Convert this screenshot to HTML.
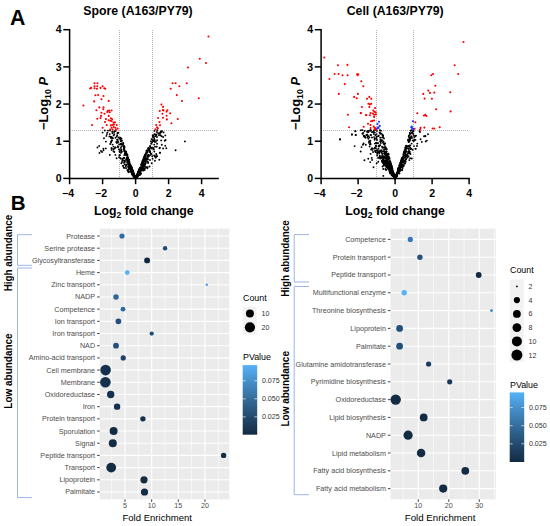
<!DOCTYPE html>
<html><head><meta charset="utf-8"><style>
html,body{margin:0;padding:0;background:#fff;}
svg{display:block;font-family:"Liberation Sans",sans-serif;}
</style></head><body>
<svg width="550" height="526" viewBox="0 0 550 526">
<defs><linearGradient id="grad" x1="0" y1="0" x2="0" y2="1"><stop offset="0" stop-color="#56B1F7"/><stop offset="0.2" stop-color="#4894D0"/><stop offset="0.4" stop-color="#3A78AA"/><stop offset="0.6" stop-color="#2C5D86"/><stop offset="0.8" stop-color="#1F4364"/><stop offset="1" stop-color="#132B43"/></linearGradient></defs>
<rect width="550" height="526" fill="#fff"/>
<text x="9.90" y="25.00" font-size="21.3" text-anchor="start" font-weight="bold" fill="#000" >A</text>
<text x="10.80" y="210.30" font-size="20.5" text-anchor="start" font-weight="bold" fill="#000" >B</text>
<line x1="119.5" y1="30" x2="119.5" y2="178" stroke="#b3b3b3" stroke-width="1" stroke-dasharray="1 1"/>
<line x1="152.5" y1="30" x2="152.5" y2="178" stroke="#b3b3b3" stroke-width="1" stroke-dasharray="1 1"/>
<line x1="70" y1="130.5" x2="218" y2="130.5" stroke="#b3b3b3" stroke-width="1" stroke-dasharray="1 1"/>
<path d="M69.60,29.00 V178.40 H218.80" fill="none" stroke="#000" stroke-width="1.5"/>
<line x1="63.30" y1="178.40" x2="69.60" y2="178.40" stroke="#000" stroke-width="1.5"/>
<text x="61.60" y="182.10" font-size="10.5" text-anchor="end" font-weight="bold" fill="#000" >0</text>
<line x1="63.30" y1="141.23" x2="69.60" y2="141.23" stroke="#000" stroke-width="1.5"/>
<text x="61.60" y="144.93" font-size="10.5" text-anchor="end" font-weight="bold" fill="#000" >1</text>
<line x1="63.30" y1="104.05" x2="69.60" y2="104.05" stroke="#000" stroke-width="1.5"/>
<text x="61.60" y="107.75" font-size="10.5" text-anchor="end" font-weight="bold" fill="#000" >2</text>
<line x1="63.30" y1="66.88" x2="69.60" y2="66.88" stroke="#000" stroke-width="1.5"/>
<text x="61.60" y="70.58" font-size="10.5" text-anchor="end" font-weight="bold" fill="#000" >3</text>
<line x1="63.30" y1="29.70" x2="69.60" y2="29.70" stroke="#000" stroke-width="1.5"/>
<text x="61.60" y="33.40" font-size="10.5" text-anchor="end" font-weight="bold" fill="#000" >4</text>
<line x1="69.60" y1="178.40" x2="69.60" y2="184.20" stroke="#000" stroke-width="1.5"/>
<text x="68.10" y="197.30" font-size="10.5" text-anchor="middle" font-weight="bold" fill="#000" >&#8722;4</text>
<line x1="102.60" y1="178.40" x2="102.60" y2="184.20" stroke="#000" stroke-width="1.5"/>
<text x="101.10" y="197.30" font-size="10.5" text-anchor="middle" font-weight="bold" fill="#000" >&#8722;2</text>
<line x1="135.60" y1="178.40" x2="135.60" y2="184.20" stroke="#000" stroke-width="1.5"/>
<text x="135.60" y="197.30" font-size="10.5" text-anchor="middle" font-weight="bold" fill="#000" >0</text>
<line x1="168.60" y1="178.40" x2="168.60" y2="184.20" stroke="#000" stroke-width="1.5"/>
<text x="168.60" y="197.30" font-size="10.5" text-anchor="middle" font-weight="bold" fill="#000" >2</text>
<line x1="201.60" y1="178.40" x2="201.60" y2="184.20" stroke="#000" stroke-width="1.5"/>
<text x="201.60" y="197.30" font-size="10.5" text-anchor="middle" font-weight="bold" fill="#000" >4</text>
<text x="138.00" y="14.70" font-size="12.3" text-anchor="middle" font-weight="bold" fill="#000" >Spore (A163/PY79)</text>
<text x="143.85" y="215.2" font-size="12.3" font-weight="bold" text-anchor="middle">Log<tspan font-size="8.5" dy="3">2</tspan><tspan dy="-3"> fold change</tspan></text>
<text transform="translate(48.20,103.50) rotate(-90)" font-size="12.8" font-weight="bold" text-anchor="middle">&#8722;Log<tspan font-size="8.9" dy="3">10</tspan><tspan dy="-3" font-style="italic"> P</tspan></text>
<line x1="376.5" y1="30" x2="376.5" y2="178" stroke="#b3b3b3" stroke-width="1" stroke-dasharray="1 1"/>
<line x1="413.5" y1="30" x2="413.5" y2="178" stroke="#b3b3b3" stroke-width="1" stroke-dasharray="1 1"/>
<line x1="321" y1="130.5" x2="469" y2="130.5" stroke="#b3b3b3" stroke-width="1" stroke-dasharray="1 1"/>
<path d="M321.10,29.00 V178.40 H469.80" fill="none" stroke="#000" stroke-width="1.5"/>
<line x1="314.80" y1="178.40" x2="321.10" y2="178.40" stroke="#000" stroke-width="1.5"/>
<text x="313.10" y="182.10" font-size="10.5" text-anchor="end" font-weight="bold" fill="#000" >0</text>
<line x1="314.80" y1="141.23" x2="321.10" y2="141.23" stroke="#000" stroke-width="1.5"/>
<text x="313.10" y="144.93" font-size="10.5" text-anchor="end" font-weight="bold" fill="#000" >1</text>
<line x1="314.80" y1="104.05" x2="321.10" y2="104.05" stroke="#000" stroke-width="1.5"/>
<text x="313.10" y="107.75" font-size="10.5" text-anchor="end" font-weight="bold" fill="#000" >2</text>
<line x1="314.80" y1="66.88" x2="321.10" y2="66.88" stroke="#000" stroke-width="1.5"/>
<text x="313.10" y="70.58" font-size="10.5" text-anchor="end" font-weight="bold" fill="#000" >3</text>
<line x1="314.80" y1="29.70" x2="321.10" y2="29.70" stroke="#000" stroke-width="1.5"/>
<text x="313.10" y="33.40" font-size="10.5" text-anchor="end" font-weight="bold" fill="#000" >4</text>
<line x1="321.10" y1="178.40" x2="321.10" y2="184.20" stroke="#000" stroke-width="1.5"/>
<text x="319.60" y="197.30" font-size="10.5" text-anchor="middle" font-weight="bold" fill="#000" >&#8722;4</text>
<line x1="358.10" y1="178.40" x2="358.10" y2="184.20" stroke="#000" stroke-width="1.5"/>
<text x="356.60" y="197.30" font-size="10.5" text-anchor="middle" font-weight="bold" fill="#000" >&#8722;2</text>
<line x1="395.10" y1="178.40" x2="395.10" y2="184.20" stroke="#000" stroke-width="1.5"/>
<text x="395.10" y="197.30" font-size="10.5" text-anchor="middle" font-weight="bold" fill="#000" >0</text>
<line x1="432.10" y1="178.40" x2="432.10" y2="184.20" stroke="#000" stroke-width="1.5"/>
<text x="432.10" y="197.30" font-size="10.5" text-anchor="middle" font-weight="bold" fill="#000" >2</text>
<line x1="469.10" y1="178.40" x2="469.10" y2="184.20" stroke="#000" stroke-width="1.5"/>
<text x="469.10" y="197.30" font-size="10.5" text-anchor="middle" font-weight="bold" fill="#000" >4</text>
<text x="395.20" y="14.70" font-size="12.3" text-anchor="middle" font-weight="bold" fill="#000" >Cell (A163/PY79)</text>
<text x="395.10" y="215.2" font-size="12.3" font-weight="bold" text-anchor="middle">Log<tspan font-size="8.5" dy="3">2</tspan><tspan dy="-3"> fold change</tspan></text>
<text transform="translate(299.70,103.50) rotate(-90)" font-size="12.8" font-weight="bold" text-anchor="middle">&#8722;Log<tspan font-size="8.9" dy="3">10</tspan><tspan dy="-3" font-style="italic"> P</tspan></text>
<rect x="99.7" y="228.7" width="129.70" height="270.60" fill="#EBEBEB"/>
<line x1="111.67" y1="228.7" x2="111.67" y2="499.3" stroke="#fff" stroke-width="0.6"/>
<line x1="138.32" y1="228.7" x2="138.32" y2="499.3" stroke="#fff" stroke-width="0.6"/>
<line x1="164.97" y1="228.7" x2="164.97" y2="499.3" stroke="#fff" stroke-width="0.6"/>
<line x1="191.62" y1="228.7" x2="191.62" y2="499.3" stroke="#fff" stroke-width="0.6"/>
<line x1="218.27" y1="228.7" x2="218.27" y2="499.3" stroke="#fff" stroke-width="0.6"/>
<line x1="125.00" y1="228.7" x2="125.00" y2="499.3" stroke="#fff" stroke-width="1.1"/>
<line x1="151.65" y1="228.7" x2="151.65" y2="499.3" stroke="#fff" stroke-width="1.1"/>
<line x1="178.30" y1="228.7" x2="178.30" y2="499.3" stroke="#fff" stroke-width="1.1"/>
<line x1="204.95" y1="228.7" x2="204.95" y2="499.3" stroke="#fff" stroke-width="1.1"/>
<line x1="99.7" y1="236.01" x2="229.40" y2="236.01" stroke="#fff" stroke-width="1.1"/>
<line x1="97.10" y1="236.01" x2="99.7" y2="236.01" stroke="#333" stroke-width="0.9"/>
<text x="95.10" y="238.51" font-size="7.2" text-anchor="end" font-weight="normal" fill="#4D4D4D" >Protease</text>
<line x1="99.7" y1="248.20" x2="229.40" y2="248.20" stroke="#fff" stroke-width="1.1"/>
<line x1="97.10" y1="248.20" x2="99.7" y2="248.20" stroke="#333" stroke-width="0.9"/>
<text x="95.10" y="250.70" font-size="7.2" text-anchor="end" font-weight="normal" fill="#4D4D4D" >Serine protease</text>
<line x1="99.7" y1="260.39" x2="229.40" y2="260.39" stroke="#fff" stroke-width="1.1"/>
<line x1="97.10" y1="260.39" x2="99.7" y2="260.39" stroke="#333" stroke-width="0.9"/>
<text x="95.10" y="262.89" font-size="7.2" text-anchor="end" font-weight="normal" fill="#4D4D4D" >Glycosyltransferase</text>
<line x1="99.7" y1="272.58" x2="229.40" y2="272.58" stroke="#fff" stroke-width="1.1"/>
<line x1="97.10" y1="272.58" x2="99.7" y2="272.58" stroke="#333" stroke-width="0.9"/>
<text x="95.10" y="275.08" font-size="7.2" text-anchor="end" font-weight="normal" fill="#4D4D4D" >Heme</text>
<line x1="99.7" y1="284.77" x2="229.40" y2="284.77" stroke="#fff" stroke-width="1.1"/>
<line x1="97.10" y1="284.77" x2="99.7" y2="284.77" stroke="#333" stroke-width="0.9"/>
<text x="95.10" y="287.27" font-size="7.2" text-anchor="end" font-weight="normal" fill="#4D4D4D" >Zinc transport</text>
<line x1="99.7" y1="296.96" x2="229.40" y2="296.96" stroke="#fff" stroke-width="1.1"/>
<line x1="97.10" y1="296.96" x2="99.7" y2="296.96" stroke="#333" stroke-width="0.9"/>
<text x="95.10" y="299.46" font-size="7.2" text-anchor="end" font-weight="normal" fill="#4D4D4D" >NADP</text>
<line x1="99.7" y1="309.15" x2="229.40" y2="309.15" stroke="#fff" stroke-width="1.1"/>
<line x1="97.10" y1="309.15" x2="99.7" y2="309.15" stroke="#333" stroke-width="0.9"/>
<text x="95.10" y="311.65" font-size="7.2" text-anchor="end" font-weight="normal" fill="#4D4D4D" >Competence</text>
<line x1="99.7" y1="321.34" x2="229.40" y2="321.34" stroke="#fff" stroke-width="1.1"/>
<line x1="97.10" y1="321.34" x2="99.7" y2="321.34" stroke="#333" stroke-width="0.9"/>
<text x="95.10" y="323.84" font-size="7.2" text-anchor="end" font-weight="normal" fill="#4D4D4D" >Ion transport</text>
<line x1="99.7" y1="333.53" x2="229.40" y2="333.53" stroke="#fff" stroke-width="1.1"/>
<line x1="97.10" y1="333.53" x2="99.7" y2="333.53" stroke="#333" stroke-width="0.9"/>
<text x="95.10" y="336.03" font-size="7.2" text-anchor="end" font-weight="normal" fill="#4D4D4D" >Iron transport</text>
<line x1="99.7" y1="345.72" x2="229.40" y2="345.72" stroke="#fff" stroke-width="1.1"/>
<line x1="97.10" y1="345.72" x2="99.7" y2="345.72" stroke="#333" stroke-width="0.9"/>
<text x="95.10" y="348.22" font-size="7.2" text-anchor="end" font-weight="normal" fill="#4D4D4D" >NAD</text>
<line x1="99.7" y1="357.91" x2="229.40" y2="357.91" stroke="#fff" stroke-width="1.1"/>
<line x1="97.10" y1="357.91" x2="99.7" y2="357.91" stroke="#333" stroke-width="0.9"/>
<text x="95.10" y="360.41" font-size="7.2" text-anchor="end" font-weight="normal" fill="#4D4D4D" >Amino-acid transport</text>
<line x1="99.7" y1="370.09" x2="229.40" y2="370.09" stroke="#fff" stroke-width="1.1"/>
<line x1="97.10" y1="370.09" x2="99.7" y2="370.09" stroke="#333" stroke-width="0.9"/>
<text x="95.10" y="372.59" font-size="7.2" text-anchor="end" font-weight="normal" fill="#4D4D4D" >Cell membrane</text>
<line x1="99.7" y1="382.28" x2="229.40" y2="382.28" stroke="#fff" stroke-width="1.1"/>
<line x1="97.10" y1="382.28" x2="99.7" y2="382.28" stroke="#333" stroke-width="0.9"/>
<text x="95.10" y="384.78" font-size="7.2" text-anchor="end" font-weight="normal" fill="#4D4D4D" >Membrane</text>
<line x1="99.7" y1="394.47" x2="229.40" y2="394.47" stroke="#fff" stroke-width="1.1"/>
<line x1="97.10" y1="394.47" x2="99.7" y2="394.47" stroke="#333" stroke-width="0.9"/>
<text x="95.10" y="396.97" font-size="7.2" text-anchor="end" font-weight="normal" fill="#4D4D4D" >Oxidoreductase</text>
<line x1="99.7" y1="406.66" x2="229.40" y2="406.66" stroke="#fff" stroke-width="1.1"/>
<line x1="97.10" y1="406.66" x2="99.7" y2="406.66" stroke="#333" stroke-width="0.9"/>
<text x="95.10" y="409.16" font-size="7.2" text-anchor="end" font-weight="normal" fill="#4D4D4D" >Iron</text>
<line x1="99.7" y1="418.85" x2="229.40" y2="418.85" stroke="#fff" stroke-width="1.1"/>
<line x1="97.10" y1="418.85" x2="99.7" y2="418.85" stroke="#333" stroke-width="0.9"/>
<text x="95.10" y="421.35" font-size="7.2" text-anchor="end" font-weight="normal" fill="#4D4D4D" >Protein transport</text>
<line x1="99.7" y1="431.04" x2="229.40" y2="431.04" stroke="#fff" stroke-width="1.1"/>
<line x1="97.10" y1="431.04" x2="99.7" y2="431.04" stroke="#333" stroke-width="0.9"/>
<text x="95.10" y="433.54" font-size="7.2" text-anchor="end" font-weight="normal" fill="#4D4D4D" >Sporulation</text>
<line x1="99.7" y1="443.23" x2="229.40" y2="443.23" stroke="#fff" stroke-width="1.1"/>
<line x1="97.10" y1="443.23" x2="99.7" y2="443.23" stroke="#333" stroke-width="0.9"/>
<text x="95.10" y="445.73" font-size="7.2" text-anchor="end" font-weight="normal" fill="#4D4D4D" >Signal</text>
<line x1="99.7" y1="455.42" x2="229.40" y2="455.42" stroke="#fff" stroke-width="1.1"/>
<line x1="97.10" y1="455.42" x2="99.7" y2="455.42" stroke="#333" stroke-width="0.9"/>
<text x="95.10" y="457.92" font-size="7.2" text-anchor="end" font-weight="normal" fill="#4D4D4D" >Peptide transport</text>
<line x1="99.7" y1="467.61" x2="229.40" y2="467.61" stroke="#fff" stroke-width="1.1"/>
<line x1="97.10" y1="467.61" x2="99.7" y2="467.61" stroke="#333" stroke-width="0.9"/>
<text x="95.10" y="470.11" font-size="7.2" text-anchor="end" font-weight="normal" fill="#4D4D4D" >Transport</text>
<line x1="99.7" y1="479.80" x2="229.40" y2="479.80" stroke="#fff" stroke-width="1.1"/>
<line x1="97.10" y1="479.80" x2="99.7" y2="479.80" stroke="#333" stroke-width="0.9"/>
<text x="95.10" y="482.30" font-size="7.2" text-anchor="end" font-weight="normal" fill="#4D4D4D" >Lipoprotein</text>
<line x1="99.7" y1="491.99" x2="229.40" y2="491.99" stroke="#fff" stroke-width="1.1"/>
<line x1="97.10" y1="491.99" x2="99.7" y2="491.99" stroke="#333" stroke-width="0.9"/>
<text x="95.10" y="494.49" font-size="7.2" text-anchor="end" font-weight="normal" fill="#4D4D4D" >Palmitate</text>
<circle cx="122.00" cy="236.01" r="2.6" fill="#2F6AA0"/>
<circle cx="165.10" cy="248.20" r="2.2" fill="#1F4A75"/>
<circle cx="147.10" cy="260.39" r="2.95" fill="#102741"/>
<circle cx="127.20" cy="272.58" r="2.4" fill="#56B1F7"/>
<circle cx="206.80" cy="284.77" r="1.3" fill="#4FA3E6"/>
<circle cx="116.00" cy="296.96" r="2.75" fill="#2E6698"/>
<circle cx="123.00" cy="309.15" r="2.45" fill="#2F6AA0"/>
<circle cx="118.40" cy="321.34" r="2.85" fill="#244F7C"/>
<circle cx="151.70" cy="333.53" r="2.15" fill="#244F7C"/>
<circle cx="116.00" cy="345.72" r="2.9" fill="#244F7C"/>
<circle cx="123.20" cy="357.91" r="2.6" fill="#1D4166"/>
<circle cx="105.60" cy="370.09" r="5.3" fill="#15304D"/>
<circle cx="105.40" cy="382.28" r="5.3" fill="#15304D"/>
<circle cx="110.70" cy="394.47" r="3.7" fill="#15304D"/>
<circle cx="117.10" cy="406.66" r="3.2" fill="#15304D"/>
<circle cx="142.90" cy="418.85" r="2.7" fill="#15304D"/>
<circle cx="113.60" cy="431.04" r="4.0" fill="#132B43"/>
<circle cx="112.80" cy="443.23" r="4.0" fill="#132B43"/>
<circle cx="223.60" cy="455.42" r="2.7" fill="#132B43"/>
<circle cx="111.20" cy="467.61" r="4.9" fill="#132B43"/>
<circle cx="144.00" cy="479.80" r="3.6" fill="#132B43"/>
<circle cx="144.50" cy="491.99" r="3.6" fill="#132B43"/>
<line x1="125.00" y1="499.3" x2="125.00" y2="501.90" stroke="#333" stroke-width="0.9"/>
<text x="125.00" y="508.20" font-size="7.1" text-anchor="middle" font-weight="normal" fill="#4D4D4D" >5</text>
<line x1="151.65" y1="499.3" x2="151.65" y2="501.90" stroke="#333" stroke-width="0.9"/>
<text x="151.65" y="508.20" font-size="7.1" text-anchor="middle" font-weight="normal" fill="#4D4D4D" >10</text>
<line x1="178.30" y1="499.3" x2="178.30" y2="501.90" stroke="#333" stroke-width="0.9"/>
<text x="178.30" y="508.20" font-size="7.1" text-anchor="middle" font-weight="normal" fill="#4D4D4D" >15</text>
<line x1="204.95" y1="499.3" x2="204.95" y2="501.90" stroke="#333" stroke-width="0.9"/>
<text x="204.95" y="508.20" font-size="7.1" text-anchor="middle" font-weight="normal" fill="#4D4D4D" >20</text>
<text x="157.20" y="521.00" font-size="9.0" text-anchor="middle" font-weight="normal" fill="#000" textLength="69.4" lengthAdjust="spacingAndGlyphs">Fold Enrichment</text>
<rect x="390.5" y="228.7" width="105.30" height="270.60" fill="#EBEBEB"/>
<line x1="403.05" y1="228.7" x2="403.05" y2="499.3" stroke="#fff" stroke-width="0.6"/>
<line x1="433.55" y1="228.7" x2="433.55" y2="499.3" stroke="#fff" stroke-width="0.6"/>
<line x1="464.05" y1="228.7" x2="464.05" y2="499.3" stroke="#fff" stroke-width="0.6"/>
<line x1="494.55" y1="228.7" x2="494.55" y2="499.3" stroke="#fff" stroke-width="0.6"/>
<line x1="418.30" y1="228.7" x2="418.30" y2="499.3" stroke="#fff" stroke-width="1.1"/>
<line x1="448.80" y1="228.7" x2="448.80" y2="499.3" stroke="#fff" stroke-width="1.1"/>
<line x1="479.30" y1="228.7" x2="479.30" y2="499.3" stroke="#fff" stroke-width="1.1"/>
<line x1="390.5" y1="239.38" x2="495.80" y2="239.38" stroke="#fff" stroke-width="1.1"/>
<line x1="387.90" y1="239.38" x2="390.5" y2="239.38" stroke="#333" stroke-width="0.9"/>
<text x="385.90" y="241.88" font-size="7.2" text-anchor="end" font-weight="normal" fill="#4D4D4D" >Competence</text>
<line x1="390.5" y1="257.18" x2="495.80" y2="257.18" stroke="#fff" stroke-width="1.1"/>
<line x1="387.90" y1="257.18" x2="390.5" y2="257.18" stroke="#333" stroke-width="0.9"/>
<text x="385.90" y="259.68" font-size="7.2" text-anchor="end" font-weight="normal" fill="#4D4D4D" >Protein transport</text>
<line x1="390.5" y1="274.99" x2="495.80" y2="274.99" stroke="#fff" stroke-width="1.1"/>
<line x1="387.90" y1="274.99" x2="390.5" y2="274.99" stroke="#333" stroke-width="0.9"/>
<text x="385.90" y="277.49" font-size="7.2" text-anchor="end" font-weight="normal" fill="#4D4D4D" >Peptide transport</text>
<line x1="390.5" y1="292.79" x2="495.80" y2="292.79" stroke="#fff" stroke-width="1.1"/>
<line x1="387.90" y1="292.79" x2="390.5" y2="292.79" stroke="#333" stroke-width="0.9"/>
<text x="385.90" y="295.29" font-size="7.2" text-anchor="end" font-weight="normal" fill="#4D4D4D" >Multifunctional enzyme</text>
<line x1="390.5" y1="310.59" x2="495.80" y2="310.59" stroke="#fff" stroke-width="1.1"/>
<line x1="387.90" y1="310.59" x2="390.5" y2="310.59" stroke="#333" stroke-width="0.9"/>
<text x="385.90" y="313.09" font-size="7.2" text-anchor="end" font-weight="normal" fill="#4D4D4D" >Threonine biosynthesis</text>
<line x1="390.5" y1="328.39" x2="495.80" y2="328.39" stroke="#fff" stroke-width="1.1"/>
<line x1="387.90" y1="328.39" x2="390.5" y2="328.39" stroke="#333" stroke-width="0.9"/>
<text x="385.90" y="330.89" font-size="7.2" text-anchor="end" font-weight="normal" fill="#4D4D4D" >Lipoprotein</text>
<line x1="390.5" y1="346.20" x2="495.80" y2="346.20" stroke="#fff" stroke-width="1.1"/>
<line x1="387.90" y1="346.20" x2="390.5" y2="346.20" stroke="#333" stroke-width="0.9"/>
<text x="385.90" y="348.70" font-size="7.2" text-anchor="end" font-weight="normal" fill="#4D4D4D" >Palmitate</text>
<line x1="390.5" y1="364.00" x2="495.80" y2="364.00" stroke="#fff" stroke-width="1.1"/>
<line x1="387.90" y1="364.00" x2="390.5" y2="364.00" stroke="#333" stroke-width="0.9"/>
<text x="385.90" y="366.50" font-size="7.2" text-anchor="end" font-weight="normal" fill="#4D4D4D" >Glutamine amidotransferase</text>
<line x1="390.5" y1="381.80" x2="495.80" y2="381.80" stroke="#fff" stroke-width="1.1"/>
<line x1="387.90" y1="381.80" x2="390.5" y2="381.80" stroke="#333" stroke-width="0.9"/>
<text x="385.90" y="384.30" font-size="7.2" text-anchor="end" font-weight="normal" fill="#4D4D4D" >Pyrimidine biosynthesis</text>
<line x1="390.5" y1="399.61" x2="495.80" y2="399.61" stroke="#fff" stroke-width="1.1"/>
<line x1="387.90" y1="399.61" x2="390.5" y2="399.61" stroke="#333" stroke-width="0.9"/>
<text x="385.90" y="402.11" font-size="7.2" text-anchor="end" font-weight="normal" fill="#4D4D4D" >Oxidoreductase</text>
<line x1="390.5" y1="417.41" x2="495.80" y2="417.41" stroke="#fff" stroke-width="1.1"/>
<line x1="387.90" y1="417.41" x2="390.5" y2="417.41" stroke="#333" stroke-width="0.9"/>
<text x="385.90" y="419.91" font-size="7.2" text-anchor="end" font-weight="normal" fill="#4D4D4D" >Lipid biosynthesis</text>
<line x1="390.5" y1="435.21" x2="495.80" y2="435.21" stroke="#fff" stroke-width="1.1"/>
<line x1="387.90" y1="435.21" x2="390.5" y2="435.21" stroke="#333" stroke-width="0.9"/>
<text x="385.90" y="437.71" font-size="7.2" text-anchor="end" font-weight="normal" fill="#4D4D4D" >NADP</text>
<line x1="390.5" y1="453.01" x2="495.80" y2="453.01" stroke="#fff" stroke-width="1.1"/>
<line x1="387.90" y1="453.01" x2="390.5" y2="453.01" stroke="#333" stroke-width="0.9"/>
<text x="385.90" y="455.51" font-size="7.2" text-anchor="end" font-weight="normal" fill="#4D4D4D" >Lipid metabolism</text>
<line x1="390.5" y1="470.82" x2="495.80" y2="470.82" stroke="#fff" stroke-width="1.1"/>
<line x1="387.90" y1="470.82" x2="390.5" y2="470.82" stroke="#333" stroke-width="0.9"/>
<text x="385.90" y="473.32" font-size="7.2" text-anchor="end" font-weight="normal" fill="#4D4D4D" >Fatty acid biosynthesis</text>
<line x1="390.5" y1="488.62" x2="495.80" y2="488.62" stroke="#fff" stroke-width="1.1"/>
<line x1="387.90" y1="488.62" x2="390.5" y2="488.62" stroke="#333" stroke-width="0.9"/>
<text x="385.90" y="491.12" font-size="7.2" text-anchor="end" font-weight="normal" fill="#4D4D4D" >Fatty acid metabolism</text>
<circle cx="410.30" cy="239.38" r="2.6" fill="#3478B8"/>
<circle cx="419.90" cy="257.18" r="2.7" fill="#24527F"/>
<circle cx="478.70" cy="274.99" r="2.9" fill="#132B43"/>
<circle cx="404.20" cy="292.79" r="2.7" fill="#56B1F7"/>
<circle cx="491.50" cy="310.59" r="1.4" fill="#3A82C4"/>
<circle cx="399.60" cy="328.39" r="3.4" fill="#22507C"/>
<circle cx="399.60" cy="346.20" r="3.4" fill="#22507C"/>
<circle cx="428.60" cy="364.00" r="2.6" fill="#1A3A5C"/>
<circle cx="449.70" cy="381.80" r="2.6" fill="#1A3A5C"/>
<circle cx="395.70" cy="399.61" r="5.2" fill="#132B43"/>
<circle cx="423.70" cy="417.41" r="3.9" fill="#132B43"/>
<circle cx="408.10" cy="435.21" r="4.6" fill="#132B43"/>
<circle cx="421.10" cy="453.01" r="4.3" fill="#132B43"/>
<circle cx="465.30" cy="470.82" r="3.9" fill="#132B43"/>
<circle cx="443.20" cy="488.62" r="4.1" fill="#132B43"/>
<line x1="418.30" y1="499.3" x2="418.30" y2="501.90" stroke="#333" stroke-width="0.9"/>
<text x="418.30" y="508.20" font-size="7.1" text-anchor="middle" font-weight="normal" fill="#4D4D4D" >10</text>
<line x1="448.80" y1="499.3" x2="448.80" y2="501.90" stroke="#333" stroke-width="0.9"/>
<text x="448.80" y="508.20" font-size="7.1" text-anchor="middle" font-weight="normal" fill="#4D4D4D" >20</text>
<line x1="479.30" y1="499.3" x2="479.30" y2="501.90" stroke="#333" stroke-width="0.9"/>
<text x="479.30" y="508.20" font-size="7.1" text-anchor="middle" font-weight="normal" fill="#4D4D4D" >30</text>
<text x="440.10" y="521.00" font-size="9.0" text-anchor="middle" font-weight="normal" fill="#000" textLength="70.7" lengthAdjust="spacingAndGlyphs">Fold Enrichment</text>
<path d="M32,234.7 H17.5 V265.3 H32" fill="none" stroke="#9DB4E6" stroke-width="1"/>
<path d="M32,268.0 H17.5 V497.6 H32" fill="none" stroke="#9DB4E6" stroke-width="1"/>
<path d="M309,234.6 H294.2 V282.0 H309" fill="none" stroke="#9DB4E6" stroke-width="1"/>
<path d="M309,286.5 H294.2 V494.7 H309" fill="none" stroke="#9DB4E6" stroke-width="1"/>
<text transform="translate(12.30,253.00) rotate(-90)" font-size="10" font-weight="bold" text-anchor="middle" textLength="76.5" lengthAdjust="spacingAndGlyphs">High abundance</text>
<text transform="translate(12.30,371.00) rotate(-90)" font-size="10" font-weight="bold" text-anchor="middle" textLength="75.3" lengthAdjust="spacingAndGlyphs">Low abundance</text>
<text transform="translate(289.30,258.50) rotate(-90)" font-size="10" font-weight="bold" text-anchor="middle" textLength="76.5" lengthAdjust="spacingAndGlyphs">High abundance</text>
<text transform="translate(289.30,388.80) rotate(-90)" font-size="10" font-weight="bold" text-anchor="middle" textLength="75.5" lengthAdjust="spacingAndGlyphs">Low abundance</text>
<text x="243.00" y="301.10" font-size="8.9" text-anchor="start" font-weight="normal" fill="#000" >Count</text>
<rect x="242.7" y="306.70" width="14" height="27.50" fill="#F2F2F2"/>
<circle cx="249.90" cy="313.58" r="4.0" fill="#000"/>
<text x="261.50" y="316.08" font-size="7.1" text-anchor="start" font-weight="normal" fill="#333" >10</text>
<circle cx="249.90" cy="327.33" r="5.1" fill="#000"/>
<text x="261.50" y="329.83" font-size="7.1" text-anchor="start" font-weight="normal" fill="#333" >20</text>
<text x="243.00" y="359.60" font-size="8.9" text-anchor="start" font-weight="normal" fill="#000" >PValue</text>
<rect x="242.7" y="365.10" width="14.5" height="69.60" fill="url(#grad)"/>
<line x1="242.7" y1="380.80" x2="245.60" y2="380.80" stroke="#fff" stroke-width="0.8" opacity="0.8"/>
<line x1="254.30" y1="380.80" x2="257.20" y2="380.80" stroke="#fff" stroke-width="0.8" opacity="0.8"/>
<text x="261.90" y="383.30" font-size="7.1" text-anchor="start" font-weight="normal" fill="#333" >0.075</text>
<line x1="242.7" y1="398.85" x2="245.60" y2="398.85" stroke="#fff" stroke-width="0.8" opacity="0.8"/>
<line x1="254.30" y1="398.85" x2="257.20" y2="398.85" stroke="#fff" stroke-width="0.8" opacity="0.8"/>
<text x="261.90" y="401.35" font-size="7.1" text-anchor="start" font-weight="normal" fill="#333" >0.050</text>
<line x1="242.7" y1="416.90" x2="245.60" y2="416.90" stroke="#fff" stroke-width="0.8" opacity="0.8"/>
<line x1="254.30" y1="416.90" x2="257.20" y2="416.90" stroke="#fff" stroke-width="0.8" opacity="0.8"/>
<text x="261.90" y="419.40" font-size="7.1" text-anchor="start" font-weight="normal" fill="#333" >0.025</text>
<text x="510.00" y="273.40" font-size="8.9" text-anchor="start" font-weight="normal" fill="#000" >Count</text>
<rect x="509.7" y="279.50" width="14" height="82.50" fill="#F2F2F2"/>
<circle cx="516.90" cy="286.38" r="0.9" fill="#000"/>
<text x="528.50" y="288.88" font-size="7.1" text-anchor="start" font-weight="normal" fill="#333" >2</text>
<circle cx="516.90" cy="300.12" r="3.1" fill="#000"/>
<text x="528.50" y="302.62" font-size="7.1" text-anchor="start" font-weight="normal" fill="#333" >4</text>
<circle cx="516.90" cy="313.88" r="3.9" fill="#000"/>
<text x="528.50" y="316.38" font-size="7.1" text-anchor="start" font-weight="normal" fill="#333" >6</text>
<circle cx="516.90" cy="327.62" r="4.4" fill="#000"/>
<text x="528.50" y="330.12" font-size="7.1" text-anchor="start" font-weight="normal" fill="#333" >8</text>
<circle cx="516.90" cy="341.38" r="5.0" fill="#000"/>
<text x="528.50" y="343.88" font-size="7.1" text-anchor="start" font-weight="normal" fill="#333" >10</text>
<circle cx="516.90" cy="355.12" r="5.5" fill="#000"/>
<text x="528.50" y="357.62" font-size="7.1" text-anchor="start" font-weight="normal" fill="#333" >12</text>
<text x="510.00" y="387.50" font-size="8.9" text-anchor="start" font-weight="normal" fill="#000" >PValue</text>
<rect x="509.7" y="392.40" width="14.5" height="69.60" fill="url(#grad)"/>
<line x1="509.7" y1="407.60" x2="512.60" y2="407.60" stroke="#fff" stroke-width="0.8" opacity="0.8"/>
<line x1="521.30" y1="407.60" x2="524.20" y2="407.60" stroke="#fff" stroke-width="0.8" opacity="0.8"/>
<text x="528.90" y="410.10" font-size="7.1" text-anchor="start" font-weight="normal" fill="#333" >0.075</text>
<line x1="509.7" y1="425.70" x2="512.60" y2="425.70" stroke="#fff" stroke-width="0.8" opacity="0.8"/>
<line x1="521.30" y1="425.70" x2="524.20" y2="425.70" stroke="#fff" stroke-width="0.8" opacity="0.8"/>
<text x="528.90" y="428.20" font-size="7.1" text-anchor="start" font-weight="normal" fill="#333" >0.050</text>
<line x1="509.7" y1="443.80" x2="512.60" y2="443.80" stroke="#fff" stroke-width="0.8" opacity="0.8"/>
<line x1="521.30" y1="443.80" x2="524.20" y2="443.80" stroke="#fff" stroke-width="0.8" opacity="0.8"/>
<text x="528.90" y="446.30" font-size="7.1" text-anchor="start" font-weight="normal" fill="#333" >0.025</text>
<g fill="#000"><circle cx="122.0" cy="162.0" r="0.95"/><circle cx="130.2" cy="164.3" r="0.95"/><circle cx="132.0" cy="168.7" r="0.95"/><circle cx="112.9" cy="138.2" r="0.95"/><circle cx="135.3" cy="178.0" r="0.95"/><circle cx="119.2" cy="144.4" r="0.95"/><circle cx="124.6" cy="147.0" r="0.95"/><circle cx="127.4" cy="161.5" r="0.95"/><circle cx="129.0" cy="164.0" r="0.95"/><circle cx="135.4" cy="178.3" r="0.95"/><circle cx="126.2" cy="155.3" r="0.95"/><circle cx="131.6" cy="172.7" r="0.95"/><circle cx="135.3" cy="177.5" r="0.95"/><circle cx="133.4" cy="176.4" r="0.95"/><circle cx="109.4" cy="136.4" r="0.95"/><circle cx="122.0" cy="140.8" r="0.95"/><circle cx="133.1" cy="173.6" r="0.95"/><circle cx="124.0" cy="147.0" r="0.95"/><circle cx="121.0" cy="140.7" r="0.95"/><circle cx="135.2" cy="177.8" r="0.95"/><circle cx="114.5" cy="148.5" r="0.95"/><circle cx="120.4" cy="139.2" r="0.95"/><circle cx="133.4" cy="172.9" r="0.95"/><circle cx="119.7" cy="138.2" r="0.95"/><circle cx="116.6" cy="158.3" r="0.95"/><circle cx="131.2" cy="166.8" r="0.95"/><circle cx="134.8" cy="176.3" r="0.95"/><circle cx="133.0" cy="172.0" r="0.95"/><circle cx="134.4" cy="175.7" r="0.95"/><circle cx="117.7" cy="133.0" r="0.95"/><circle cx="121.9" cy="151.7" r="0.95"/><circle cx="124.0" cy="145.8" r="0.95"/><circle cx="129.2" cy="166.3" r="0.95"/><circle cx="134.9" cy="176.6" r="0.95"/><circle cx="129.2" cy="161.7" r="0.95"/><circle cx="130.5" cy="166.7" r="0.95"/><circle cx="135.3" cy="178.0" r="0.95"/><circle cx="123.2" cy="142.9" r="0.95"/><circle cx="132.9" cy="170.9" r="0.95"/><circle cx="129.2" cy="163.3" r="0.95"/><circle cx="110.7" cy="136.7" r="0.95"/><circle cx="131.3" cy="171.9" r="0.95"/><circle cx="119.1" cy="157.3" r="0.95"/><circle cx="122.7" cy="160.5" r="0.95"/><circle cx="130.5" cy="168.5" r="0.95"/><circle cx="131.5" cy="171.7" r="0.95"/><circle cx="129.4" cy="161.5" r="0.95"/><circle cx="114.1" cy="132.1" r="0.95"/><circle cx="131.5" cy="170.8" r="0.95"/><circle cx="124.6" cy="151.7" r="0.95"/><circle cx="111.6" cy="147.9" r="0.95"/><circle cx="128.5" cy="161.6" r="0.95"/><circle cx="115.5" cy="147.6" r="0.95"/><circle cx="134.2" cy="175.7" r="0.95"/><circle cx="111.0" cy="142.5" r="0.95"/><circle cx="132.7" cy="171.2" r="0.95"/><circle cx="129.2" cy="162.0" r="0.95"/><circle cx="131.4" cy="168.5" r="0.95"/><circle cx="135.5" cy="178.0" r="0.95"/><circle cx="133.8" cy="175.5" r="0.95"/><circle cx="127.5" cy="154.9" r="0.95"/><circle cx="124.6" cy="162.1" r="0.95"/><circle cx="116.8" cy="142.9" r="0.95"/><circle cx="129.1" cy="168.7" r="0.95"/><circle cx="131.9" cy="170.4" r="0.95"/><circle cx="108.0" cy="130.6" r="0.95"/><circle cx="121.0" cy="152.7" r="0.95"/><circle cx="131.0" cy="168.2" r="0.95"/><circle cx="133.7" cy="176.3" r="0.95"/><circle cx="116.3" cy="141.9" r="0.95"/><circle cx="120.8" cy="158.5" r="0.95"/><circle cx="134.9" cy="177.2" r="0.95"/><circle cx="131.8" cy="171.5" r="0.95"/><circle cx="103.4" cy="148.7" r="0.95"/><circle cx="130.1" cy="165.4" r="0.95"/><circle cx="134.3" cy="175.1" r="0.95"/><circle cx="129.8" cy="165.9" r="0.95"/><circle cx="132.7" cy="173.9" r="0.95"/><circle cx="127.4" cy="156.4" r="0.95"/><circle cx="126.1" cy="164.7" r="0.95"/><circle cx="134.5" cy="177.2" r="0.95"/><circle cx="123.7" cy="149.3" r="0.95"/><circle cx="129.0" cy="169.0" r="0.95"/><circle cx="119.3" cy="155.1" r="0.95"/><circle cx="105.8" cy="148.4" r="0.95"/><circle cx="129.9" cy="166.7" r="0.95"/><circle cx="125.0" cy="167.9" r="0.95"/><circle cx="126.2" cy="159.7" r="0.95"/><circle cx="131.7" cy="170.6" r="0.95"/><circle cx="135.1" cy="177.5" r="0.95"/><circle cx="111.2" cy="141.7" r="0.95"/><circle cx="129.6" cy="163.1" r="0.95"/><circle cx="134.6" cy="176.7" r="0.95"/><circle cx="118.1" cy="147.3" r="0.95"/><circle cx="127.9" cy="157.4" r="0.95"/><circle cx="120.9" cy="141.3" r="0.95"/><circle cx="129.8" cy="165.2" r="0.95"/><circle cx="130.4" cy="165.1" r="0.95"/><circle cx="128.9" cy="168.9" r="0.95"/><circle cx="133.5" cy="175.1" r="0.95"/><circle cx="134.5" cy="176.2" r="0.95"/><circle cx="113.5" cy="149.1" r="0.95"/><circle cx="124.5" cy="150.6" r="0.95"/><circle cx="133.1" cy="174.5" r="0.95"/><circle cx="129.2" cy="159.8" r="0.95"/><circle cx="127.6" cy="170.3" r="0.95"/><circle cx="128.8" cy="164.2" r="0.95"/><circle cx="124.2" cy="146.9" r="0.95"/><circle cx="129.4" cy="166.0" r="0.95"/><circle cx="113.6" cy="146.6" r="0.95"/><circle cx="134.9" cy="176.8" r="0.95"/><circle cx="128.9" cy="162.4" r="0.95"/><circle cx="128.5" cy="164.6" r="0.95"/><circle cx="132.7" cy="170.9" r="0.95"/><circle cx="133.1" cy="172.0" r="0.95"/><circle cx="124.9" cy="164.5" r="0.95"/><circle cx="131.6" cy="171.0" r="0.95"/><circle cx="123.7" cy="167.7" r="0.95"/><circle cx="119.6" cy="151.8" r="0.95"/><circle cx="132.1" cy="174.0" r="0.95"/><circle cx="130.8" cy="170.7" r="0.95"/><circle cx="132.6" cy="171.5" r="0.95"/><circle cx="110.0" cy="130.6" r="0.95"/><circle cx="120.0" cy="150.1" r="0.95"/><circle cx="131.3" cy="169.6" r="0.95"/><circle cx="135.5" cy="178.4" r="0.95"/><circle cx="135.3" cy="178.0" r="0.95"/><circle cx="126.2" cy="151.7" r="0.95"/><circle cx="127.6" cy="158.5" r="0.95"/><circle cx="123.2" cy="165.9" r="0.95"/><circle cx="135.5" cy="178.3" r="0.95"/><circle cx="131.7" cy="167.6" r="0.95"/><circle cx="122.8" cy="144.6" r="0.95"/><circle cx="126.4" cy="168.1" r="0.95"/><circle cx="129.9" cy="165.0" r="0.95"/><circle cx="131.9" cy="169.5" r="0.95"/><circle cx="126.0" cy="154.2" r="0.95"/><circle cx="120.6" cy="144.3" r="0.95"/><circle cx="128.7" cy="172.2" r="0.95"/><circle cx="116.8" cy="136.5" r="0.95"/><circle cx="135.2" cy="177.8" r="0.95"/><circle cx="128.1" cy="171.5" r="0.95"/><circle cx="130.0" cy="167.8" r="0.95"/><circle cx="120.9" cy="148.0" r="0.95"/><circle cx="127.9" cy="161.6" r="0.95"/><circle cx="128.4" cy="167.1" r="0.95"/><circle cx="135.5" cy="178.3" r="0.95"/><circle cx="111.6" cy="140.5" r="0.95"/><circle cx="123.9" cy="157.6" r="0.95"/><circle cx="128.9" cy="167.4" r="0.95"/><circle cx="113.5" cy="151.2" r="0.95"/><circle cx="117.4" cy="133.1" r="0.95"/><circle cx="130.7" cy="168.5" r="0.95"/><circle cx="115.5" cy="137.8" r="0.95"/><circle cx="127.8" cy="158.4" r="0.95"/><circle cx="133.4" cy="172.1" r="0.95"/><circle cx="132.8" cy="173.9" r="0.95"/><circle cx="124.0" cy="160.8" r="0.95"/><circle cx="131.8" cy="169.4" r="0.95"/><circle cx="132.8" cy="172.2" r="0.95"/><circle cx="121.5" cy="138.8" r="0.95"/><circle cx="128.9" cy="166.4" r="0.95"/><circle cx="133.4" cy="173.0" r="0.95"/><circle cx="111.5" cy="137.3" r="0.95"/><circle cx="124.9" cy="153.4" r="0.95"/><circle cx="123.8" cy="158.0" r="0.95"/><circle cx="134.1" cy="176.6" r="0.95"/><circle cx="133.6" cy="173.7" r="0.95"/><circle cx="135.0" cy="177.0" r="0.95"/><circle cx="126.6" cy="158.0" r="0.95"/><circle cx="115.6" cy="147.4" r="0.95"/><circle cx="134.0" cy="174.6" r="0.95"/><circle cx="134.6" cy="175.7" r="0.95"/><circle cx="123.1" cy="165.7" r="0.95"/><circle cx="133.2" cy="173.8" r="0.95"/><circle cx="111.3" cy="137.6" r="0.95"/><circle cx="120.4" cy="137.6" r="0.95"/><circle cx="131.9" cy="169.3" r="0.95"/><circle cx="129.6" cy="164.8" r="0.95"/><circle cx="135.2" cy="177.7" r="0.95"/><circle cx="130.0" cy="171.5" r="0.95"/><circle cx="132.6" cy="174.3" r="0.95"/><circle cx="131.9" cy="174.5" r="0.95"/><circle cx="126.8" cy="164.9" r="0.95"/><circle cx="124.9" cy="160.6" r="0.95"/><circle cx="127.9" cy="158.5" r="0.95"/><circle cx="126.9" cy="153.9" r="0.95"/><circle cx="112.0" cy="140.5" r="0.95"/><circle cx="113.7" cy="135.4" r="0.95"/><circle cx="118.2" cy="132.8" r="0.95"/><circle cx="121.2" cy="150.3" r="0.95"/><circle cx="123.5" cy="146.6" r="0.95"/><circle cx="120.1" cy="155.1" r="0.95"/><circle cx="114.3" cy="152.0" r="0.95"/><circle cx="129.7" cy="165.8" r="0.95"/><circle cx="106.9" cy="134.1" r="0.95"/><circle cx="130.1" cy="165.1" r="0.95"/><circle cx="132.5" cy="169.6" r="0.95"/><circle cx="123.9" cy="158.3" r="0.95"/><circle cx="121.4" cy="144.3" r="0.95"/><circle cx="133.8" cy="175.4" r="0.95"/><circle cx="125.8" cy="152.3" r="0.95"/><circle cx="111.9" cy="137.4" r="0.95"/><circle cx="121.4" cy="163.2" r="0.95"/><circle cx="133.4" cy="175.1" r="0.95"/><circle cx="134.3" cy="176.5" r="0.95"/><circle cx="130.7" cy="165.7" r="0.95"/><circle cx="127.2" cy="155.1" r="0.95"/><circle cx="128.8" cy="162.7" r="0.95"/><circle cx="117.7" cy="139.7" r="0.95"/><circle cx="134.2" cy="174.4" r="0.95"/><circle cx="131.9" cy="171.1" r="0.95"/><circle cx="104.8" cy="130.5" r="0.95"/><circle cx="131.1" cy="168.2" r="0.95"/><circle cx="125.0" cy="154.3" r="0.95"/><circle cx="119.8" cy="151.7" r="0.95"/><circle cx="134.8" cy="177.2" r="0.95"/><circle cx="134.1" cy="174.3" r="0.95"/><circle cx="132.4" cy="170.2" r="0.95"/><circle cx="134.2" cy="174.6" r="0.95"/><circle cx="120.6" cy="144.3" r="0.95"/><circle cx="134.7" cy="176.6" r="0.95"/><circle cx="133.1" cy="172.8" r="0.95"/><circle cx="127.5" cy="160.2" r="0.95"/><circle cx="135.3" cy="178.0" r="0.95"/><circle cx="115.6" cy="131.1" r="0.95"/><circle cx="117.1" cy="139.7" r="0.95"/><circle cx="133.9" cy="174.3" r="0.95"/><circle cx="134.6" cy="176.2" r="0.95"/><circle cx="132.7" cy="171.3" r="0.95"/><circle cx="132.0" cy="168.6" r="0.95"/><circle cx="130.6" cy="166.9" r="0.95"/><circle cx="127.9" cy="157.8" r="0.95"/><circle cx="117.9" cy="142.5" r="0.95"/><circle cx="125.8" cy="166.3" r="0.95"/><circle cx="133.9" cy="174.1" r="0.95"/><circle cx="125.8" cy="153.7" r="0.95"/><circle cx="133.6" cy="174.4" r="0.95"/><circle cx="130.6" cy="169.6" r="0.95"/><circle cx="122.9" cy="158.8" r="0.95"/><circle cx="124.2" cy="147.7" r="0.95"/><circle cx="129.9" cy="166.6" r="0.95"/><circle cx="129.3" cy="166.6" r="0.95"/><circle cx="127.6" cy="170.0" r="0.95"/><circle cx="127.3" cy="162.8" r="0.95"/><circle cx="132.7" cy="172.5" r="0.95"/><circle cx="133.9" cy="174.6" r="0.95"/><circle cx="129.8" cy="166.5" r="0.95"/><circle cx="128.4" cy="161.2" r="0.95"/><circle cx="131.5" cy="171.6" r="0.95"/><circle cx="132.5" cy="172.3" r="0.95"/><circle cx="118.1" cy="141.4" r="0.95"/><circle cx="114.3" cy="134.3" r="0.95"/><circle cx="126.3" cy="154.8" r="0.95"/><circle cx="134.4" cy="176.4" r="0.95"/><circle cx="128.6" cy="160.7" r="0.95"/><circle cx="131.2" cy="166.5" r="0.95"/><circle cx="124.2" cy="150.9" r="0.95"/><circle cx="134.5" cy="176.0" r="0.95"/><circle cx="131.6" cy="167.2" r="0.95"/><circle cx="115.4" cy="154.9" r="0.95"/><circle cx="129.1" cy="162.9" r="0.95"/><circle cx="134.0" cy="176.1" r="0.95"/><circle cx="124.0" cy="162.9" r="0.95"/><circle cx="123.8" cy="147.9" r="0.95"/><circle cx="109.7" cy="134.1" r="0.95"/><circle cx="134.3" cy="176.2" r="0.95"/><circle cx="132.1" cy="170.7" r="0.95"/><circle cx="118.9" cy="149.4" r="0.95"/><circle cx="117.9" cy="146.3" r="0.95"/><circle cx="120.5" cy="158.3" r="0.95"/><circle cx="111.7" cy="149.9" r="0.95"/><circle cx="126.3" cy="153.0" r="0.95"/><circle cx="127.4" cy="161.5" r="0.95"/><circle cx="131.2" cy="167.7" r="0.95"/><circle cx="111.0" cy="137.9" r="0.95"/><circle cx="125.8" cy="153.1" r="0.95"/><circle cx="135.4" cy="178.1" r="0.95"/><circle cx="126.4" cy="158.9" r="0.95"/><circle cx="130.3" cy="166.1" r="0.95"/><circle cx="133.0" cy="173.2" r="0.95"/><circle cx="128.3" cy="170.4" r="0.95"/><circle cx="132.8" cy="173.1" r="0.95"/><circle cx="124.8" cy="161.5" r="0.95"/><circle cx="124.6" cy="150.3" r="0.95"/><circle cx="128.1" cy="164.0" r="0.95"/><circle cx="131.2" cy="166.7" r="0.95"/><circle cx="114.3" cy="131.1" r="0.95"/><circle cx="126.1" cy="152.1" r="0.95"/><circle cx="128.1" cy="166.6" r="0.95"/><circle cx="123.3" cy="143.4" r="0.95"/><circle cx="131.5" cy="168.4" r="0.95"/><circle cx="120.3" cy="138.0" r="0.95"/><circle cx="112.6" cy="144.6" r="0.95"/><circle cx="117.2" cy="135.2" r="0.95"/><circle cx="135.2" cy="177.8" r="0.95"/><circle cx="135.3" cy="178.1" r="0.95"/><circle cx="127.1" cy="159.3" r="0.95"/><circle cx="107.4" cy="132.6" r="0.95"/><circle cx="121.5" cy="149.9" r="0.95"/><circle cx="128.7" cy="162.4" r="0.95"/><circle cx="135.4" cy="178.0" r="0.95"/><circle cx="131.7" cy="169.3" r="0.95"/><circle cx="133.2" cy="175.3" r="0.95"/><circle cx="127.2" cy="159.3" r="0.95"/><circle cx="124.3" cy="148.9" r="0.95"/><circle cx="122.6" cy="144.9" r="0.95"/><circle cx="109.8" cy="154.9" r="0.95"/><circle cx="134.2" cy="175.2" r="0.95"/><circle cx="132.5" cy="170.6" r="0.95"/><circle cx="121.5" cy="146.4" r="0.95"/><circle cx="132.6" cy="171.3" r="0.95"/><circle cx="134.6" cy="177.0" r="0.95"/><circle cx="134.7" cy="176.3" r="0.95"/><circle cx="118.5" cy="137.5" r="0.95"/><circle cx="129.6" cy="164.8" r="0.95"/><circle cx="112.5" cy="133.2" r="0.95"/><circle cx="124.2" cy="155.1" r="0.95"/><circle cx="131.2" cy="171.0" r="0.95"/><circle cx="121.4" cy="143.5" r="0.95"/><circle cx="122.3" cy="159.9" r="0.95"/><circle cx="126.1" cy="153.9" r="0.95"/><circle cx="112.2" cy="131.7" r="0.95"/><circle cx="136.1" cy="177.9" r="0.95"/><circle cx="153.4" cy="148.9" r="0.95"/><circle cx="137.4" cy="175.4" r="0.95"/><circle cx="142.6" cy="160.9" r="0.95"/><circle cx="145.7" cy="156.0" r="0.95"/><circle cx="143.6" cy="159.8" r="0.95"/><circle cx="148.6" cy="150.6" r="0.95"/><circle cx="157.1" cy="143.8" r="0.95"/><circle cx="139.3" cy="170.9" r="0.95"/><circle cx="152.7" cy="135.4" r="0.95"/><circle cx="140.8" cy="167.2" r="0.95"/><circle cx="146.9" cy="152.1" r="0.95"/><circle cx="140.5" cy="168.2" r="0.95"/><circle cx="136.4" cy="177.1" r="0.95"/><circle cx="143.9" cy="160.2" r="0.95"/><circle cx="137.9" cy="175.7" r="0.95"/><circle cx="152.1" cy="142.5" r="0.95"/><circle cx="135.9" cy="177.9" r="0.95"/><circle cx="138.8" cy="170.3" r="0.95"/><circle cx="145.5" cy="159.4" r="0.95"/><circle cx="142.6" cy="165.8" r="0.95"/><circle cx="136.1" cy="177.7" r="0.95"/><circle cx="150.0" cy="155.2" r="0.95"/><circle cx="136.0" cy="177.6" r="0.95"/><circle cx="142.7" cy="163.6" r="0.95"/><circle cx="138.3" cy="172.3" r="0.95"/><circle cx="147.5" cy="155.8" r="0.95"/><circle cx="153.2" cy="135.4" r="0.95"/><circle cx="161.2" cy="140.4" r="0.95"/><circle cx="161.8" cy="144.8" r="0.95"/><circle cx="154.3" cy="151.5" r="0.95"/><circle cx="140.1" cy="171.3" r="0.95"/><circle cx="152.2" cy="156.3" r="0.95"/><circle cx="143.1" cy="166.5" r="0.95"/><circle cx="137.3" cy="174.5" r="0.95"/><circle cx="139.2" cy="169.9" r="0.95"/><circle cx="147.6" cy="167.2" r="0.95"/><circle cx="140.2" cy="170.5" r="0.95"/><circle cx="136.3" cy="176.9" r="0.95"/><circle cx="152.6" cy="140.9" r="0.95"/><circle cx="135.7" cy="178.3" r="0.95"/><circle cx="141.7" cy="165.6" r="0.95"/><circle cx="137.8" cy="173.7" r="0.95"/><circle cx="147.3" cy="168.3" r="0.95"/><circle cx="141.0" cy="170.7" r="0.95"/><circle cx="165.3" cy="145.8" r="0.95"/><circle cx="142.5" cy="163.5" r="0.95"/><circle cx="142.5" cy="166.5" r="0.95"/><circle cx="149.2" cy="149.8" r="0.95"/><circle cx="157.0" cy="137.0" r="0.95"/><circle cx="151.3" cy="147.9" r="0.95"/><circle cx="137.5" cy="173.8" r="0.95"/><circle cx="139.7" cy="169.5" r="0.95"/><circle cx="137.3" cy="175.3" r="0.95"/><circle cx="138.3" cy="171.6" r="0.95"/><circle cx="153.4" cy="140.9" r="0.95"/><circle cx="144.7" cy="155.0" r="0.95"/><circle cx="136.2" cy="177.5" r="0.95"/><circle cx="138.1" cy="173.4" r="0.95"/><circle cx="140.3" cy="174.4" r="0.95"/><circle cx="136.3" cy="177.3" r="0.95"/><circle cx="136.8" cy="176.4" r="0.95"/><circle cx="147.2" cy="159.1" r="0.95"/><circle cx="145.3" cy="157.9" r="0.95"/><circle cx="136.5" cy="176.3" r="0.95"/><circle cx="139.8" cy="172.1" r="0.95"/><circle cx="138.9" cy="170.3" r="0.95"/><circle cx="143.9" cy="157.2" r="0.95"/><circle cx="145.7" cy="159.8" r="0.95"/><circle cx="149.7" cy="148.1" r="0.95"/><circle cx="154.8" cy="139.9" r="0.95"/><circle cx="153.8" cy="149.2" r="0.95"/><circle cx="160.1" cy="152.8" r="0.95"/><circle cx="141.2" cy="168.8" r="0.95"/><circle cx="143.4" cy="168.2" r="0.95"/><circle cx="141.6" cy="164.2" r="0.95"/><circle cx="140.4" cy="170.5" r="0.95"/><circle cx="146.7" cy="158.9" r="0.95"/><circle cx="143.6" cy="164.6" r="0.95"/><circle cx="145.5" cy="167.4" r="0.95"/><circle cx="145.8" cy="162.7" r="0.95"/><circle cx="138.9" cy="171.9" r="0.95"/><circle cx="154.6" cy="141.7" r="0.95"/><circle cx="139.2" cy="174.7" r="0.95"/><circle cx="141.2" cy="173.6" r="0.95"/><circle cx="137.0" cy="175.4" r="0.95"/><circle cx="148.2" cy="162.1" r="0.95"/><circle cx="145.8" cy="153.2" r="0.95"/><circle cx="138.0" cy="173.3" r="0.95"/><circle cx="137.6" cy="175.1" r="0.95"/><circle cx="137.9" cy="173.6" r="0.95"/><circle cx="153.8" cy="140.8" r="0.95"/><circle cx="139.8" cy="168.2" r="0.95"/><circle cx="159.5" cy="148.3" r="0.95"/><circle cx="150.9" cy="147.5" r="0.95"/><circle cx="148.2" cy="156.6" r="0.95"/><circle cx="140.1" cy="167.8" r="0.95"/><circle cx="138.8" cy="170.7" r="0.95"/><circle cx="136.2" cy="177.1" r="0.95"/><circle cx="135.7" cy="178.3" r="0.95"/><circle cx="145.5" cy="155.0" r="0.95"/><circle cx="144.2" cy="160.8" r="0.95"/><circle cx="142.3" cy="164.3" r="0.95"/><circle cx="148.4" cy="150.3" r="0.95"/><circle cx="150.7" cy="153.6" r="0.95"/><circle cx="136.7" cy="176.9" r="0.95"/><circle cx="143.8" cy="161.9" r="0.95"/><circle cx="143.4" cy="161.5" r="0.95"/><circle cx="139.7" cy="170.0" r="0.95"/><circle cx="136.8" cy="176.0" r="0.95"/><circle cx="138.0" cy="174.2" r="0.95"/><circle cx="151.5" cy="139.1" r="0.95"/><circle cx="147.6" cy="158.4" r="0.95"/><circle cx="136.6" cy="176.1" r="0.95"/><circle cx="143.6" cy="162.7" r="0.95"/><circle cx="144.7" cy="170.0" r="0.95"/><circle cx="135.8" cy="178.2" r="0.95"/><circle cx="138.7" cy="170.9" r="0.95"/><circle cx="143.9" cy="159.7" r="0.95"/><circle cx="148.1" cy="148.5" r="0.95"/><circle cx="138.4" cy="172.1" r="0.95"/><circle cx="140.1" cy="168.4" r="0.95"/><circle cx="138.4" cy="171.8" r="0.95"/><circle cx="160.7" cy="131.6" r="0.95"/><circle cx="153.1" cy="140.2" r="0.95"/><circle cx="150.9" cy="141.5" r="0.95"/><circle cx="145.0" cy="164.5" r="0.95"/><circle cx="143.5" cy="160.3" r="0.95"/><circle cx="144.8" cy="166.2" r="0.95"/><circle cx="139.4" cy="174.9" r="0.95"/><circle cx="150.0" cy="160.0" r="0.95"/><circle cx="143.3" cy="160.3" r="0.95"/><circle cx="138.4" cy="171.9" r="0.95"/><circle cx="156.9" cy="132.0" r="0.95"/><circle cx="139.3" cy="169.1" r="0.95"/><circle cx="152.7" cy="137.0" r="0.95"/><circle cx="149.0" cy="156.0" r="0.95"/><circle cx="136.4" cy="177.2" r="0.95"/><circle cx="147.9" cy="159.4" r="0.95"/><circle cx="146.0" cy="158.1" r="0.95"/><circle cx="142.6" cy="161.1" r="0.95"/><circle cx="158.9" cy="135.3" r="0.95"/><circle cx="149.4" cy="149.4" r="0.95"/><circle cx="145.5" cy="163.4" r="0.95"/><circle cx="140.9" cy="167.4" r="0.95"/><circle cx="147.2" cy="158.1" r="0.95"/><circle cx="147.9" cy="155.3" r="0.95"/><circle cx="155.1" cy="134.4" r="0.95"/><circle cx="139.4" cy="173.5" r="0.95"/><circle cx="145.8" cy="153.5" r="0.95"/><circle cx="137.5" cy="174.5" r="0.95"/><circle cx="137.7" cy="173.3" r="0.95"/><circle cx="159.8" cy="133.9" r="0.95"/><circle cx="144.3" cy="169.0" r="0.95"/><circle cx="143.0" cy="167.0" r="0.95"/><circle cx="142.7" cy="170.2" r="0.95"/><circle cx="139.1" cy="173.2" r="0.95"/><circle cx="142.4" cy="161.8" r="0.95"/><circle cx="138.4" cy="171.9" r="0.95"/><circle cx="139.1" cy="169.8" r="0.95"/><circle cx="148.5" cy="155.0" r="0.95"/><circle cx="151.7" cy="148.6" r="0.95"/><circle cx="154.5" cy="141.3" r="0.95"/><circle cx="146.2" cy="161.1" r="0.95"/><circle cx="142.8" cy="163.8" r="0.95"/><circle cx="152.0" cy="139.6" r="0.95"/><circle cx="148.5" cy="147.9" r="0.95"/><circle cx="141.0" cy="167.4" r="0.95"/><circle cx="137.7" cy="174.7" r="0.95"/><circle cx="135.9" cy="178.0" r="0.95"/><circle cx="150.2" cy="152.0" r="0.95"/><circle cx="156.2" cy="135.5" r="0.95"/><circle cx="145.1" cy="161.2" r="0.95"/><circle cx="136.7" cy="176.4" r="0.95"/><circle cx="138.5" cy="172.4" r="0.95"/><circle cx="160.8" cy="132.6" r="0.95"/><circle cx="157.1" cy="156.3" r="0.95"/><circle cx="138.8" cy="173.8" r="0.95"/><circle cx="153.0" cy="147.7" r="0.95"/><circle cx="140.5" cy="172.7" r="0.95"/><circle cx="143.3" cy="170.5" r="0.95"/><circle cx="151.3" cy="153.9" r="0.95"/><circle cx="150.2" cy="151.2" r="0.95"/><circle cx="145.8" cy="154.0" r="0.95"/><circle cx="147.2" cy="152.7" r="0.95"/><circle cx="137.9" cy="175.5" r="0.95"/><circle cx="142.4" cy="168.0" r="0.95"/><circle cx="141.6" cy="169.6" r="0.95"/><circle cx="156.5" cy="134.5" r="0.95"/><circle cx="149.1" cy="150.2" r="0.95"/><circle cx="136.3" cy="177.2" r="0.95"/><circle cx="147.3" cy="150.1" r="0.95"/><circle cx="143.0" cy="169.5" r="0.95"/><circle cx="149.5" cy="166.5" r="0.95"/><circle cx="137.4" cy="175.5" r="0.95"/><circle cx="137.4" cy="175.1" r="0.95"/><circle cx="142.7" cy="165.1" r="0.95"/><circle cx="144.6" cy="164.0" r="0.95"/><circle cx="143.4" cy="163.4" r="0.95"/><circle cx="135.9" cy="177.8" r="0.95"/><circle cx="156.1" cy="156.4" r="0.95"/><circle cx="136.6" cy="177.3" r="0.95"/><circle cx="162.0" cy="131.3" r="0.95"/><circle cx="145.0" cy="168.1" r="0.95"/><circle cx="141.0" cy="164.8" r="0.95"/><circle cx="136.8" cy="175.4" r="0.95"/><circle cx="137.8" cy="174.4" r="0.95"/><circle cx="137.9" cy="172.5" r="0.95"/><circle cx="139.3" cy="173.5" r="0.95"/><circle cx="144.3" cy="156.4" r="0.95"/><circle cx="149.6" cy="152.1" r="0.95"/><circle cx="139.4" cy="170.1" r="0.95"/><circle cx="150.1" cy="145.9" r="0.95"/><circle cx="138.0" cy="173.2" r="0.95"/><circle cx="147.5" cy="151.9" r="0.95"/><circle cx="150.1" cy="146.6" r="0.95"/><circle cx="140.3" cy="171.6" r="0.95"/><circle cx="153.9" cy="137.0" r="0.95"/><circle cx="144.2" cy="160.3" r="0.95"/><circle cx="136.6" cy="176.4" r="0.95"/><circle cx="138.1" cy="173.4" r="0.95"/><circle cx="146.8" cy="158.7" r="0.95"/><circle cx="141.7" cy="163.0" r="0.95"/><circle cx="152.6" cy="158.7" r="0.95"/><circle cx="166.3" cy="148.2" r="0.95"/><circle cx="144.7" cy="156.7" r="0.95"/><circle cx="136.2" cy="177.2" r="0.95"/><circle cx="138.2" cy="175.7" r="0.95"/><circle cx="144.7" cy="158.3" r="0.95"/><circle cx="155.3" cy="136.3" r="0.95"/><circle cx="145.4" cy="154.8" r="0.95"/><circle cx="144.2" cy="165.6" r="0.95"/><circle cx="136.1" cy="177.2" r="0.95"/><circle cx="156.4" cy="154.9" r="0.95"/><circle cx="154.2" cy="144.6" r="0.95"/><circle cx="138.2" cy="173.5" r="0.95"/><circle cx="137.3" cy="174.8" r="0.95"/><circle cx="136.0" cy="177.9" r="0.95"/><circle cx="154.4" cy="134.3" r="0.95"/><circle cx="148.7" cy="148.6" r="0.95"/><circle cx="142.9" cy="164.0" r="0.95"/><circle cx="154.4" cy="130.9" r="0.95"/><circle cx="140.8" cy="168.3" r="0.95"/><circle cx="154.1" cy="155.4" r="0.95"/><circle cx="144.7" cy="160.5" r="0.95"/><circle cx="137.5" cy="176.5" r="0.95"/><circle cx="137.2" cy="175.7" r="0.95"/><circle cx="151.3" cy="153.7" r="0.95"/><circle cx="146.4" cy="167.1" r="0.95"/><circle cx="154.2" cy="138.8" r="0.95"/><circle cx="143.3" cy="163.9" r="0.95"/><circle cx="157.3" cy="130.1" r="0.95"/><circle cx="139.6" cy="168.7" r="0.95"/><circle cx="151.7" cy="163.3" r="0.95"/><circle cx="147.3" cy="161.6" r="0.95"/><circle cx="137.5" cy="174.4" r="0.95"/><circle cx="143.5" cy="164.2" r="0.95"/><circle cx="142.4" cy="163.6" r="0.95"/><circle cx="141.7" cy="164.1" r="0.95"/><circle cx="140.1" cy="174.5" r="0.95"/><circle cx="140.7" cy="170.4" r="0.95"/><circle cx="139.0" cy="173.7" r="0.95"/><circle cx="146.4" cy="150.9" r="0.95"/><circle cx="148.0" cy="156.8" r="0.95"/><circle cx="136.3" cy="176.9" r="0.95"/><circle cx="165.6" cy="140.0" r="0.95"/><circle cx="156.7" cy="146.7" r="0.95"/><circle cx="141.9" cy="168.4" r="0.95"/><circle cx="137.8" cy="175.4" r="0.95"/><circle cx="142.6" cy="166.6" r="0.95"/><circle cx="143.2" cy="158.9" r="0.95"/><circle cx="138.6" cy="173.5" r="0.95"/><circle cx="139.2" cy="170.7" r="0.95"/><circle cx="155.0" cy="146.8" r="0.95"/><circle cx="154.7" cy="156.1" r="0.95"/><circle cx="136.8" cy="177.3" r="0.95"/><circle cx="147.4" cy="156.3" r="0.95"/><circle cx="160.1" cy="132.7" r="0.95"/><circle cx="138.4" cy="172.1" r="0.95"/><circle cx="146.7" cy="150.7" r="0.95"/><circle cx="155.8" cy="157.4" r="0.95"/><circle cx="143.6" cy="160.3" r="0.95"/><circle cx="136.2" cy="177.5" r="0.95"/><circle cx="139.1" cy="172.6" r="0.95"/><circle cx="136.9" cy="176.2" r="0.95"/><circle cx="144.5" cy="165.1" r="0.95"/><circle cx="151.2" cy="143.7" r="0.95"/><circle cx="140.2" cy="171.6" r="0.95"/><circle cx="139.3" cy="171.0" r="0.95"/><circle cx="148.1" cy="163.0" r="0.95"/><circle cx="161.6" cy="136.2" r="0.95"/><circle cx="155.9" cy="141.8" r="0.95"/><circle cx="147.0" cy="159.8" r="0.95"/><circle cx="102.6" cy="132.6" r="0.95"/><circle cx="106.4" cy="135.9" r="0.95"/><circle cx="104.0" cy="138.3" r="0.95"/><circle cx="105.9" cy="141.6" r="0.95"/><circle cx="99.2" cy="145.9" r="0.95"/><circle cx="103.5" cy="150.2" r="0.95"/><circle cx="99.5" cy="153.0" r="0.95"/><circle cx="102.1" cy="152.0" r="0.95"/><circle cx="110.2" cy="144.0" r="0.95"/><circle cx="111.6" cy="148.7" r="0.95"/><circle cx="97.5" cy="147.5" r="0.95"/><circle cx="101.0" cy="151.0" r="0.95"/><circle cx="184.9" cy="141.4" r="0.95"/><circle cx="175.6" cy="150.3" r="0.95"/><circle cx="164.7" cy="140.8" r="0.95"/><circle cx="165.3" cy="135.4" r="0.95"/><circle cx="163.6" cy="132.4" r="0.95"/><circle cx="161.5" cy="131.5" r="0.95"/><circle cx="163.1" cy="137.0" r="0.95"/><circle cx="159.8" cy="147.7" r="0.95"/><circle cx="163.1" cy="148.5" r="0.95"/><circle cx="159.8" cy="152.8" r="0.95"/><circle cx="159.3" cy="159.7" r="0.95"/><circle cx="156.2" cy="153.9" r="0.95"/><circle cx="155.5" cy="157.5" r="0.95"/><circle cx="154.9" cy="160.8" r="0.95"/><circle cx="157.1" cy="140.3" r="0.95"/><circle cx="158.2" cy="133.2" r="0.95"/><circle cx="160.6" cy="135.4" r="0.95"/></g>
<g fill="#F00"><circle cx="94.5" cy="83.3" r="1.05"/><circle cx="97.5" cy="83.3" r="1.05"/><circle cx="94.5" cy="86.2" r="1.05"/><circle cx="97.3" cy="86.2" r="1.05"/><circle cx="90.2" cy="88.5" r="1.05"/><circle cx="91.0" cy="87.9" r="1.05"/><circle cx="94.5" cy="88.3" r="1.05"/><circle cx="96.9" cy="88.7" r="1.05"/><circle cx="100.5" cy="87.9" r="1.05"/><circle cx="102.6" cy="86.2" r="1.05"/><circle cx="105.2" cy="88.7" r="1.05"/><circle cx="104.3" cy="88.3" r="1.05"/><circle cx="95.4" cy="95.2" r="1.05"/><circle cx="98.1" cy="95.0" r="1.05"/><circle cx="103.5" cy="96.0" r="1.05"/><circle cx="101.4" cy="99.2" r="1.05"/><circle cx="94.2" cy="101.4" r="1.05"/><circle cx="108.7" cy="100.9" r="1.05"/><circle cx="83.4" cy="105.5" r="1.05"/><circle cx="99.3" cy="107.4" r="1.05"/><circle cx="103.5" cy="107.2" r="1.05"/><circle cx="103.3" cy="109.3" r="1.05"/><circle cx="96.4" cy="110.2" r="1.05"/><circle cx="107.8" cy="110.9" r="1.05"/><circle cx="109.2" cy="110.5" r="1.05"/><circle cx="111.6" cy="110.5" r="1.05"/><circle cx="107.3" cy="112.1" r="1.05"/><circle cx="109.7" cy="112.3" r="1.05"/><circle cx="101.4" cy="112.8" r="1.05"/><circle cx="104.5" cy="113.7" r="1.05"/><circle cx="108.7" cy="115.9" r="1.05"/><circle cx="101.1" cy="115.9" r="1.05"/><circle cx="97.3" cy="118.8" r="1.05"/><circle cx="100.5" cy="118.1" r="1.05"/><circle cx="105.9" cy="119.1" r="1.05"/><circle cx="110.9" cy="118.3" r="1.05"/><circle cx="112.1" cy="119.3" r="1.05"/><circle cx="108.7" cy="120.2" r="1.05"/><circle cx="110.2" cy="120.7" r="1.05"/><circle cx="111.6" cy="121.0" r="1.05"/><circle cx="105.0" cy="122.1" r="1.05"/><circle cx="113.5" cy="122.6" r="1.05"/><circle cx="114.9" cy="122.4" r="1.05"/><circle cx="92.1" cy="125.0" r="1.05"/><circle cx="106.7" cy="125.0" r="1.05"/><circle cx="110.9" cy="125.4" r="1.05"/><circle cx="112.5" cy="125.0" r="1.05"/><circle cx="114.0" cy="124.5" r="1.05"/><circle cx="116.8" cy="125.0" r="1.05"/><circle cx="102.6" cy="127.8" r="1.05"/><circle cx="111.6" cy="127.8" r="1.05"/><circle cx="115.4" cy="127.8" r="1.05"/><circle cx="110.2" cy="129.5" r="1.05"/><circle cx="112.5" cy="129.5" r="1.05"/><circle cx="115.9" cy="129.9" r="1.05"/><circle cx="117.6" cy="128.6" r="1.05"/><circle cx="113.8" cy="127.0" r="1.05"/><circle cx="208.5" cy="36.5" r="1.05"/><circle cx="199.8" cy="58.8" r="1.05"/><circle cx="206.0" cy="63.0" r="1.05"/><circle cx="188.0" cy="67.5" r="1.05"/><circle cx="172.6" cy="83.3" r="1.05"/><circle cx="175.6" cy="83.3" r="1.05"/><circle cx="186.7" cy="83.3" r="1.05"/><circle cx="179.4" cy="86.2" r="1.05"/><circle cx="170.7" cy="88.8" r="1.05"/><circle cx="176.8" cy="95.1" r="1.05"/><circle cx="198.8" cy="98.3" r="1.05"/><circle cx="182.0" cy="101.0" r="1.05"/><circle cx="161.4" cy="104.5" r="1.05"/><circle cx="163.1" cy="106.9" r="1.05"/><circle cx="162.8" cy="110.0" r="1.05"/><circle cx="163.5" cy="110.4" r="1.05"/><circle cx="159.7" cy="111.0" r="1.05"/><circle cx="167.4" cy="110.2" r="1.05"/><circle cx="166.6" cy="111.6" r="1.05"/><circle cx="170.2" cy="113.3" r="1.05"/><circle cx="162.4" cy="113.8" r="1.05"/><circle cx="166.6" cy="115.7" r="1.05"/><circle cx="158.1" cy="118.0" r="1.05"/><circle cx="163.0" cy="117.8" r="1.05"/><circle cx="166.9" cy="119.4" r="1.05"/><circle cx="177.8" cy="119.0" r="1.05"/><circle cx="159.5" cy="122.1" r="1.05"/><circle cx="171.4" cy="123.3" r="1.05"/><circle cx="156.2" cy="125.0" r="1.05"/><circle cx="160.0" cy="125.2" r="1.05"/><circle cx="157.1" cy="127.3" r="1.05"/><circle cx="157.9" cy="128.3" r="1.05"/><circle cx="155.4" cy="129.4" r="1.05"/></g>
<g fill="#1F2FFF"></g>
<g fill="#000"><circle cx="380.3" cy="133.7" r="0.95"/><circle cx="383.1" cy="162.9" r="0.95"/><circle cx="383.5" cy="162.7" r="0.95"/><circle cx="388.6" cy="163.5" r="0.95"/><circle cx="380.9" cy="141.0" r="0.95"/><circle cx="388.4" cy="164.4" r="0.95"/><circle cx="378.7" cy="151.8" r="0.95"/><circle cx="385.1" cy="158.0" r="0.95"/><circle cx="390.8" cy="168.5" r="0.95"/><circle cx="383.7" cy="162.2" r="0.95"/><circle cx="380.2" cy="158.5" r="0.95"/><circle cx="383.3" cy="159.7" r="0.95"/><circle cx="391.0" cy="171.6" r="0.95"/><circle cx="388.5" cy="161.3" r="0.95"/><circle cx="389.4" cy="165.5" r="0.95"/><circle cx="364.7" cy="131.0" r="0.95"/><circle cx="390.2" cy="168.1" r="0.95"/><circle cx="385.8" cy="147.5" r="0.95"/><circle cx="393.1" cy="174.2" r="0.95"/><circle cx="390.5" cy="171.2" r="0.95"/><circle cx="380.4" cy="151.4" r="0.95"/><circle cx="394.9" cy="178.1" r="0.95"/><circle cx="392.3" cy="171.6" r="0.95"/><circle cx="390.3" cy="165.1" r="0.95"/><circle cx="394.0" cy="176.0" r="0.95"/><circle cx="385.0" cy="160.6" r="0.95"/><circle cx="387.7" cy="165.2" r="0.95"/><circle cx="388.6" cy="157.3" r="0.95"/><circle cx="389.8" cy="170.6" r="0.95"/><circle cx="381.5" cy="152.8" r="0.95"/><circle cx="388.2" cy="158.4" r="0.95"/><circle cx="393.9" cy="175.5" r="0.95"/><circle cx="370.4" cy="140.8" r="0.95"/><circle cx="379.2" cy="152.2" r="0.95"/><circle cx="393.4" cy="174.1" r="0.95"/><circle cx="389.8" cy="170.8" r="0.95"/><circle cx="387.5" cy="162.9" r="0.95"/><circle cx="386.3" cy="166.6" r="0.95"/><circle cx="385.0" cy="149.4" r="0.95"/><circle cx="384.6" cy="156.7" r="0.95"/><circle cx="394.4" cy="176.5" r="0.95"/><circle cx="389.8" cy="171.0" r="0.95"/><circle cx="384.1" cy="149.7" r="0.95"/><circle cx="381.6" cy="133.8" r="0.95"/><circle cx="391.1" cy="165.7" r="0.95"/><circle cx="383.2" cy="157.3" r="0.95"/><circle cx="383.0" cy="135.4" r="0.95"/><circle cx="375.7" cy="145.9" r="0.95"/><circle cx="385.7" cy="155.7" r="0.95"/><circle cx="386.9" cy="157.5" r="0.95"/><circle cx="373.0" cy="152.0" r="0.95"/><circle cx="377.4" cy="152.5" r="0.95"/><circle cx="385.2" cy="164.5" r="0.95"/><circle cx="389.0" cy="168.4" r="0.95"/><circle cx="385.7" cy="160.3" r="0.95"/><circle cx="386.3" cy="165.1" r="0.95"/><circle cx="371.1" cy="149.5" r="0.95"/><circle cx="393.1" cy="173.6" r="0.95"/><circle cx="393.2" cy="175.4" r="0.95"/><circle cx="392.1" cy="172.1" r="0.95"/><circle cx="393.0" cy="175.7" r="0.95"/><circle cx="364.1" cy="136.6" r="0.95"/><circle cx="385.5" cy="164.6" r="0.95"/><circle cx="394.7" cy="178.2" r="0.95"/><circle cx="374.9" cy="143.6" r="0.95"/><circle cx="389.2" cy="166.4" r="0.95"/><circle cx="391.1" cy="167.4" r="0.95"/><circle cx="394.2" cy="176.2" r="0.95"/><circle cx="388.0" cy="165.7" r="0.95"/><circle cx="367.3" cy="131.1" r="0.95"/><circle cx="376.8" cy="136.4" r="0.95"/><circle cx="388.0" cy="166.2" r="0.95"/><circle cx="392.3" cy="174.0" r="0.95"/><circle cx="379.6" cy="132.5" r="0.95"/><circle cx="371.9" cy="132.1" r="0.95"/><circle cx="379.8" cy="155.6" r="0.95"/><circle cx="388.2" cy="168.8" r="0.95"/><circle cx="387.0" cy="166.4" r="0.95"/><circle cx="391.3" cy="171.3" r="0.95"/><circle cx="375.2" cy="150.6" r="0.95"/><circle cx="378.7" cy="135.7" r="0.95"/><circle cx="392.3" cy="174.8" r="0.95"/><circle cx="389.0" cy="168.6" r="0.95"/><circle cx="375.3" cy="135.0" r="0.95"/><circle cx="382.5" cy="156.1" r="0.95"/><circle cx="378.5" cy="146.2" r="0.95"/><circle cx="390.7" cy="166.5" r="0.95"/><circle cx="383.2" cy="137.0" r="0.95"/><circle cx="386.0" cy="162.7" r="0.95"/><circle cx="393.2" cy="172.6" r="0.95"/><circle cx="385.1" cy="143.5" r="0.95"/><circle cx="394.2" cy="175.6" r="0.95"/><circle cx="392.6" cy="174.8" r="0.95"/><circle cx="381.3" cy="140.3" r="0.95"/><circle cx="384.3" cy="147.8" r="0.95"/><circle cx="390.5" cy="165.4" r="0.95"/><circle cx="388.1" cy="164.3" r="0.95"/><circle cx="390.7" cy="168.2" r="0.95"/><circle cx="393.8" cy="175.9" r="0.95"/><circle cx="394.4" cy="177.1" r="0.95"/><circle cx="380.9" cy="158.3" r="0.95"/><circle cx="379.2" cy="153.5" r="0.95"/><circle cx="392.3" cy="170.8" r="0.95"/><circle cx="393.8" cy="175.0" r="0.95"/><circle cx="392.2" cy="172.0" r="0.95"/><circle cx="394.4" cy="177.5" r="0.95"/><circle cx="394.9" cy="178.4" r="0.95"/><circle cx="376.0" cy="143.2" r="0.95"/><circle cx="390.0" cy="173.1" r="0.95"/><circle cx="386.8" cy="155.7" r="0.95"/><circle cx="393.7" cy="175.1" r="0.95"/><circle cx="389.8" cy="170.7" r="0.95"/><circle cx="391.8" cy="166.2" r="0.95"/><circle cx="375.5" cy="130.1" r="0.95"/><circle cx="385.4" cy="168.9" r="0.95"/><circle cx="384.6" cy="163.3" r="0.95"/><circle cx="386.8" cy="160.6" r="0.95"/><circle cx="391.3" cy="172.1" r="0.95"/><circle cx="393.1" cy="173.2" r="0.95"/><circle cx="365.8" cy="144.7" r="0.95"/><circle cx="391.0" cy="171.7" r="0.95"/><circle cx="382.6" cy="134.9" r="0.95"/><circle cx="392.7" cy="174.3" r="0.95"/><circle cx="383.4" cy="158.3" r="0.95"/><circle cx="372.5" cy="149.9" r="0.95"/><circle cx="387.6" cy="165.2" r="0.95"/><circle cx="382.2" cy="156.9" r="0.95"/><circle cx="393.5" cy="175.8" r="0.95"/><circle cx="391.6" cy="170.2" r="0.95"/><circle cx="392.4" cy="168.8" r="0.95"/><circle cx="381.5" cy="152.2" r="0.95"/><circle cx="370.5" cy="135.0" r="0.95"/><circle cx="394.9" cy="178.2" r="0.95"/><circle cx="388.4" cy="164.2" r="0.95"/><circle cx="387.5" cy="163.4" r="0.95"/><circle cx="395.1" cy="178.4" r="0.95"/><circle cx="392.2" cy="170.2" r="0.95"/><circle cx="389.9" cy="167.7" r="0.95"/><circle cx="387.5" cy="158.1" r="0.95"/><circle cx="394.2" cy="175.8" r="0.95"/><circle cx="394.2" cy="175.9" r="0.95"/><circle cx="378.4" cy="148.8" r="0.95"/><circle cx="394.5" cy="177.0" r="0.95"/><circle cx="394.3" cy="176.2" r="0.95"/><circle cx="390.5" cy="167.8" r="0.95"/><circle cx="385.8" cy="148.4" r="0.95"/><circle cx="394.5" cy="177.3" r="0.95"/><circle cx="394.4" cy="176.2" r="0.95"/><circle cx="369.0" cy="142.8" r="0.95"/><circle cx="383.6" cy="151.2" r="0.95"/><circle cx="392.3" cy="172.1" r="0.95"/><circle cx="391.3" cy="170.7" r="0.95"/><circle cx="368.4" cy="138.7" r="0.95"/><circle cx="390.9" cy="169.1" r="0.95"/><circle cx="394.8" cy="177.8" r="0.95"/><circle cx="388.1" cy="167.6" r="0.95"/><circle cx="393.7" cy="175.6" r="0.95"/><circle cx="386.1" cy="158.4" r="0.95"/><circle cx="380.6" cy="157.3" r="0.95"/><circle cx="391.2" cy="170.1" r="0.95"/><circle cx="386.4" cy="151.4" r="0.95"/><circle cx="394.3" cy="176.6" r="0.95"/><circle cx="370.3" cy="143.0" r="0.95"/><circle cx="384.8" cy="151.6" r="0.95"/><circle cx="387.3" cy="157.3" r="0.95"/><circle cx="384.2" cy="160.8" r="0.95"/><circle cx="391.0" cy="169.0" r="0.95"/><circle cx="368.5" cy="130.9" r="0.95"/><circle cx="374.8" cy="132.6" r="0.95"/><circle cx="380.7" cy="157.7" r="0.95"/><circle cx="383.5" cy="141.6" r="0.95"/><circle cx="376.6" cy="138.9" r="0.95"/><circle cx="394.8" cy="178.2" r="0.95"/><circle cx="392.0" cy="172.5" r="0.95"/><circle cx="390.6" cy="169.9" r="0.95"/><circle cx="386.7" cy="164.6" r="0.95"/><circle cx="393.5" cy="173.4" r="0.95"/><circle cx="362.4" cy="133.8" r="0.95"/><circle cx="385.9" cy="161.5" r="0.95"/><circle cx="391.3" cy="173.1" r="0.95"/><circle cx="379.8" cy="130.1" r="0.95"/><circle cx="367.8" cy="136.1" r="0.95"/><circle cx="390.6" cy="169.8" r="0.95"/><circle cx="385.6" cy="162.5" r="0.95"/><circle cx="376.1" cy="142.6" r="0.95"/><circle cx="362.5" cy="130.1" r="0.95"/><circle cx="369.9" cy="144.5" r="0.95"/><circle cx="390.8" cy="172.5" r="0.95"/><circle cx="380.7" cy="141.1" r="0.95"/><circle cx="394.4" cy="176.4" r="0.95"/><circle cx="377.8" cy="150.7" r="0.95"/><circle cx="386.6" cy="161.4" r="0.95"/><circle cx="385.1" cy="162.2" r="0.95"/><circle cx="391.6" cy="166.5" r="0.95"/><circle cx="379.0" cy="157.7" r="0.95"/><circle cx="394.7" cy="177.1" r="0.95"/><circle cx="388.2" cy="158.1" r="0.95"/><circle cx="393.8" cy="174.7" r="0.95"/><circle cx="376.9" cy="130.9" r="0.95"/><circle cx="393.2" cy="173.4" r="0.95"/><circle cx="392.7" cy="172.8" r="0.95"/><circle cx="381.4" cy="157.4" r="0.95"/><circle cx="392.4" cy="173.9" r="0.95"/><circle cx="394.0" cy="177.0" r="0.95"/><circle cx="393.1" cy="173.8" r="0.95"/><circle cx="393.6" cy="174.7" r="0.95"/><circle cx="394.1" cy="175.3" r="0.95"/><circle cx="377.3" cy="153.9" r="0.95"/><circle cx="391.5" cy="174.2" r="0.95"/><circle cx="388.6" cy="156.7" r="0.95"/><circle cx="386.6" cy="160.2" r="0.95"/><circle cx="370.6" cy="153.9" r="0.95"/><circle cx="389.2" cy="163.7" r="0.95"/><circle cx="387.2" cy="154.2" r="0.95"/><circle cx="376.7" cy="163.2" r="0.95"/><circle cx="390.4" cy="161.7" r="0.95"/><circle cx="392.4" cy="173.3" r="0.95"/><circle cx="391.0" cy="172.3" r="0.95"/><circle cx="393.6" cy="176.0" r="0.95"/><circle cx="388.1" cy="165.3" r="0.95"/><circle cx="391.5" cy="175.1" r="0.95"/><circle cx="391.9" cy="167.6" r="0.95"/><circle cx="388.0" cy="158.5" r="0.95"/><circle cx="377.2" cy="143.2" r="0.95"/><circle cx="388.6" cy="154.8" r="0.95"/><circle cx="390.8" cy="171.8" r="0.95"/><circle cx="369.4" cy="137.2" r="0.95"/><circle cx="394.6" cy="177.0" r="0.95"/><circle cx="379.7" cy="156.5" r="0.95"/><circle cx="380.1" cy="141.4" r="0.95"/><circle cx="377.1" cy="140.1" r="0.95"/><circle cx="382.5" cy="161.3" r="0.95"/><circle cx="394.3" cy="176.3" r="0.95"/><circle cx="386.0" cy="162.4" r="0.95"/><circle cx="395.0" cy="178.2" r="0.95"/><circle cx="374.8" cy="148.5" r="0.95"/><circle cx="376.7" cy="150.4" r="0.95"/><circle cx="375.6" cy="152.1" r="0.95"/><circle cx="390.5" cy="171.3" r="0.95"/><circle cx="387.6" cy="164.4" r="0.95"/><circle cx="387.2" cy="155.8" r="0.95"/><circle cx="373.0" cy="148.6" r="0.95"/><circle cx="393.8" cy="176.7" r="0.95"/><circle cx="382.6" cy="166.5" r="0.95"/><circle cx="392.1" cy="174.6" r="0.95"/><circle cx="383.9" cy="163.5" r="0.95"/><circle cx="390.0" cy="170.1" r="0.95"/><circle cx="383.2" cy="169.0" r="0.95"/><circle cx="393.3" cy="173.7" r="0.95"/><circle cx="392.5" cy="170.3" r="0.95"/><circle cx="387.9" cy="159.6" r="0.95"/><circle cx="382.2" cy="160.4" r="0.95"/><circle cx="368.4" cy="131.3" r="0.95"/><circle cx="390.6" cy="168.1" r="0.95"/><circle cx="386.3" cy="169.8" r="0.95"/><circle cx="389.3" cy="169.9" r="0.95"/><circle cx="392.9" cy="174.0" r="0.95"/><circle cx="388.0" cy="168.2" r="0.95"/><circle cx="371.7" cy="157.9" r="0.95"/><circle cx="394.7" cy="178.1" r="0.95"/><circle cx="394.9" cy="178.2" r="0.95"/><circle cx="373.9" cy="130.6" r="0.95"/><circle cx="383.6" cy="159.4" r="0.95"/><circle cx="387.2" cy="154.7" r="0.95"/><circle cx="387.3" cy="160.7" r="0.95"/><circle cx="383.4" cy="147.4" r="0.95"/><circle cx="385.2" cy="154.5" r="0.95"/><circle cx="388.0" cy="164.9" r="0.95"/><circle cx="380.8" cy="157.1" r="0.95"/><circle cx="389.8" cy="170.9" r="0.95"/><circle cx="367.3" cy="134.6" r="0.95"/><circle cx="394.9" cy="178.2" r="0.95"/><circle cx="391.6" cy="168.5" r="0.95"/><circle cx="384.6" cy="164.4" r="0.95"/><circle cx="378.4" cy="136.1" r="0.95"/><circle cx="384.9" cy="154.5" r="0.95"/><circle cx="393.4" cy="176.3" r="0.95"/><circle cx="386.6" cy="151.5" r="0.95"/><circle cx="364.7" cy="136.7" r="0.95"/><circle cx="393.1" cy="171.4" r="0.95"/><circle cx="366.3" cy="135.2" r="0.95"/><circle cx="378.3" cy="161.8" r="0.95"/><circle cx="387.1" cy="165.0" r="0.95"/><circle cx="392.0" cy="171.5" r="0.95"/><circle cx="389.0" cy="166.9" r="0.95"/><circle cx="384.1" cy="153.6" r="0.95"/><circle cx="389.4" cy="158.0" r="0.95"/><circle cx="391.7" cy="172.3" r="0.95"/><circle cx="362.9" cy="144.8" r="0.95"/><circle cx="394.7" cy="177.4" r="0.95"/><circle cx="363.6" cy="143.5" r="0.95"/><circle cx="386.4" cy="158.1" r="0.95"/><circle cx="391.3" cy="165.3" r="0.95"/><circle cx="392.1" cy="175.5" r="0.95"/><circle cx="390.1" cy="170.5" r="0.95"/><circle cx="370.6" cy="144.2" r="0.95"/><circle cx="384.0" cy="165.6" r="0.95"/><circle cx="382.6" cy="135.8" r="0.95"/><circle cx="385.8" cy="157.4" r="0.95"/><circle cx="385.0" cy="161.2" r="0.95"/><circle cx="383.5" cy="165.3" r="0.95"/><circle cx="384.8" cy="152.1" r="0.95"/><circle cx="390.4" cy="173.4" r="0.95"/><circle cx="390.8" cy="171.3" r="0.95"/><circle cx="382.5" cy="147.7" r="0.95"/><circle cx="376.1" cy="138.1" r="0.95"/><circle cx="369.6" cy="141.1" r="0.95"/><circle cx="388.2" cy="159.2" r="0.95"/><circle cx="394.7" cy="177.1" r="0.95"/><circle cx="372.0" cy="137.5" r="0.95"/><circle cx="382.4" cy="140.5" r="0.95"/><circle cx="387.8" cy="167.5" r="0.95"/><circle cx="382.9" cy="142.6" r="0.95"/><circle cx="367.2" cy="132.0" r="0.95"/><circle cx="384.9" cy="163.5" r="0.95"/><circle cx="393.1" cy="173.8" r="0.95"/><circle cx="390.8" cy="172.7" r="0.95"/><circle cx="382.2" cy="161.1" r="0.95"/><circle cx="393.9" cy="175.7" r="0.95"/><circle cx="363.7" cy="135.5" r="0.95"/><circle cx="384.5" cy="143.4" r="0.95"/><circle cx="367.5" cy="137.2" r="0.95"/><circle cx="393.5" cy="175.0" r="0.95"/><circle cx="392.7" cy="173.4" r="0.95"/><circle cx="382.5" cy="162.3" r="0.95"/><circle cx="383.2" cy="160.8" r="0.95"/><circle cx="394.0" cy="175.3" r="0.95"/><circle cx="392.8" cy="174.7" r="0.95"/><circle cx="373.7" cy="133.9" r="0.95"/><circle cx="394.6" cy="177.2" r="0.95"/><circle cx="386.3" cy="166.2" r="0.95"/><circle cx="371.9" cy="148.1" r="0.95"/><circle cx="394.2" cy="175.5" r="0.95"/><circle cx="375.5" cy="151.0" r="0.95"/><circle cx="384.6" cy="153.2" r="0.95"/><circle cx="379.1" cy="151.8" r="0.95"/><circle cx="383.2" cy="156.9" r="0.95"/><circle cx="392.1" cy="169.2" r="0.95"/><circle cx="391.7" cy="168.0" r="0.95"/><circle cx="380.8" cy="143.0" r="0.95"/><circle cx="393.9" cy="176.9" r="0.95"/><circle cx="388.9" cy="167.8" r="0.95"/><circle cx="382.7" cy="155.8" r="0.95"/><circle cx="389.3" cy="169.1" r="0.95"/><circle cx="372.7" cy="131.9" r="0.95"/><circle cx="387.9" cy="165.8" r="0.95"/><circle cx="390.7" cy="170.2" r="0.95"/><circle cx="369.1" cy="141.4" r="0.95"/><circle cx="382.3" cy="154.0" r="0.95"/><circle cx="385.0" cy="146.1" r="0.95"/><circle cx="385.9" cy="153.1" r="0.95"/><circle cx="387.2" cy="164.9" r="0.95"/><circle cx="389.4" cy="168.5" r="0.95"/><circle cx="389.0" cy="162.5" r="0.95"/><circle cx="388.6" cy="167.2" r="0.95"/><circle cx="392.5" cy="172.8" r="0.95"/><circle cx="392.6" cy="171.9" r="0.95"/><circle cx="394.7" cy="178.0" r="0.95"/><circle cx="389.6" cy="158.9" r="0.95"/><circle cx="390.5" cy="171.4" r="0.95"/><circle cx="391.4" cy="172.1" r="0.95"/><circle cx="392.3" cy="169.9" r="0.95"/><circle cx="389.5" cy="171.0" r="0.95"/><circle cx="380.3" cy="145.1" r="0.95"/><circle cx="393.5" cy="175.9" r="0.95"/><circle cx="390.7" cy="164.7" r="0.95"/><circle cx="360.9" cy="130.3" r="0.95"/><circle cx="391.7" cy="168.9" r="0.95"/><circle cx="389.5" cy="161.5" r="0.95"/><circle cx="384.8" cy="162.8" r="0.95"/><circle cx="382.4" cy="155.7" r="0.95"/><circle cx="391.3" cy="165.8" r="0.95"/><circle cx="389.9" cy="163.5" r="0.95"/><circle cx="385.5" cy="161.4" r="0.95"/><circle cx="388.4" cy="168.3" r="0.95"/><circle cx="380.1" cy="150.4" r="0.95"/><circle cx="382.1" cy="151.6" r="0.95"/><circle cx="384.3" cy="151.7" r="0.95"/><circle cx="385.7" cy="161.4" r="0.95"/><circle cx="385.8" cy="165.8" r="0.95"/><circle cx="384.0" cy="138.4" r="0.95"/><circle cx="393.9" cy="174.1" r="0.95"/><circle cx="391.0" cy="163.8" r="0.95"/><circle cx="394.5" cy="177.7" r="0.95"/><circle cx="394.3" cy="176.4" r="0.95"/><circle cx="384.1" cy="163.2" r="0.95"/><circle cx="374.9" cy="147.8" r="0.95"/><circle cx="390.8" cy="167.2" r="0.95"/><circle cx="389.6" cy="164.2" r="0.95"/><circle cx="386.6" cy="167.2" r="0.95"/><circle cx="395.0" cy="178.3" r="0.95"/><circle cx="382.1" cy="137.6" r="0.95"/><circle cx="380.2" cy="137.6" r="0.95"/><circle cx="393.1" cy="172.8" r="0.95"/><circle cx="394.9" cy="178.3" r="0.95"/><circle cx="390.2" cy="170.9" r="0.95"/><circle cx="393.3" cy="173.1" r="0.95"/><circle cx="382.0" cy="146.6" r="0.95"/><circle cx="382.5" cy="161.2" r="0.95"/><circle cx="392.5" cy="172.8" r="0.95"/><circle cx="389.7" cy="169.6" r="0.95"/><circle cx="388.8" cy="165.0" r="0.95"/><circle cx="370.2" cy="130.3" r="0.95"/><circle cx="392.0" cy="171.8" r="0.95"/><circle cx="388.5" cy="167.6" r="0.95"/><circle cx="393.4" cy="173.2" r="0.95"/><circle cx="375.4" cy="151.5" r="0.95"/><circle cx="391.4" cy="172.0" r="0.95"/><circle cx="386.8" cy="149.3" r="0.95"/><circle cx="394.8" cy="177.6" r="0.95"/><circle cx="385.8" cy="169.7" r="0.95"/><circle cx="377.0" cy="150.1" r="0.95"/><circle cx="387.1" cy="164.3" r="0.95"/><circle cx="369.6" cy="146.6" r="0.95"/><circle cx="388.7" cy="167.5" r="0.95"/><circle cx="388.8" cy="169.2" r="0.95"/><circle cx="393.1" cy="175.7" r="0.95"/><circle cx="392.0" cy="170.6" r="0.95"/><circle cx="390.1" cy="169.7" r="0.95"/><circle cx="391.0" cy="167.9" r="0.95"/><circle cx="391.8" cy="170.8" r="0.95"/><circle cx="385.4" cy="161.8" r="0.95"/><circle cx="391.4" cy="172.8" r="0.95"/><circle cx="385.4" cy="161.9" r="0.95"/><circle cx="392.9" cy="174.4" r="0.95"/><circle cx="378.1" cy="157.9" r="0.95"/><circle cx="394.2" cy="177.3" r="0.95"/><circle cx="393.5" cy="173.4" r="0.95"/><circle cx="364.3" cy="136.0" r="0.95"/><circle cx="393.5" cy="174.3" r="0.95"/><circle cx="374.7" cy="138.6" r="0.95"/><circle cx="386.7" cy="153.8" r="0.95"/><circle cx="371.0" cy="135.0" r="0.95"/><circle cx="384.0" cy="160.6" r="0.95"/><circle cx="393.8" cy="175.5" r="0.95"/><circle cx="388.7" cy="167.7" r="0.95"/><circle cx="394.5" cy="177.2" r="0.95"/><circle cx="389.8" cy="168.6" r="0.95"/><circle cx="388.1" cy="162.8" r="0.95"/><circle cx="383.8" cy="143.7" r="0.95"/><circle cx="388.7" cy="165.0" r="0.95"/><circle cx="390.7" cy="168.0" r="0.95"/><circle cx="386.7" cy="157.1" r="0.95"/><circle cx="390.0" cy="170.3" r="0.95"/><circle cx="386.7" cy="159.0" r="0.95"/><circle cx="384.3" cy="144.6" r="0.95"/><circle cx="384.9" cy="157.4" r="0.95"/><circle cx="393.1" cy="175.7" r="0.95"/><circle cx="394.2" cy="176.9" r="0.95"/><circle cx="383.4" cy="157.9" r="0.95"/><circle cx="389.8" cy="172.4" r="0.95"/><circle cx="393.7" cy="174.7" r="0.95"/><circle cx="381.7" cy="150.3" r="0.95"/><circle cx="388.0" cy="161.9" r="0.95"/><circle cx="383.7" cy="157.1" r="0.95"/><circle cx="393.9" cy="177.1" r="0.95"/><circle cx="386.4" cy="163.8" r="0.95"/><circle cx="376.6" cy="134.1" r="0.95"/><circle cx="388.0" cy="153.6" r="0.95"/><circle cx="393.1" cy="172.5" r="0.95"/><circle cx="374.1" cy="137.1" r="0.95"/><circle cx="392.3" cy="173.3" r="0.95"/><circle cx="373.7" cy="131.9" r="0.95"/><circle cx="374.6" cy="139.7" r="0.95"/><circle cx="364.7" cy="136.6" r="0.95"/><circle cx="387.9" cy="165.7" r="0.95"/><circle cx="379.1" cy="145.5" r="0.95"/><circle cx="380.4" cy="133.3" r="0.95"/><circle cx="385.1" cy="163.2" r="0.95"/><circle cx="388.5" cy="153.8" r="0.95"/><circle cx="363.3" cy="132.8" r="0.95"/><circle cx="394.3" cy="177.1" r="0.95"/><circle cx="387.0" cy="161.3" r="0.95"/><circle cx="387.0" cy="156.8" r="0.95"/><circle cx="389.9" cy="161.0" r="0.95"/><circle cx="391.4" cy="171.3" r="0.95"/><circle cx="388.2" cy="168.0" r="0.95"/><circle cx="382.8" cy="159.1" r="0.95"/><circle cx="386.5" cy="162.7" r="0.95"/><circle cx="393.2" cy="175.2" r="0.95"/><circle cx="390.0" cy="169.6" r="0.95"/><circle cx="390.1" cy="164.4" r="0.95"/><circle cx="393.6" cy="173.5" r="0.95"/><circle cx="393.5" cy="174.4" r="0.95"/><circle cx="379.3" cy="146.4" r="0.95"/><circle cx="386.0" cy="152.4" r="0.95"/><circle cx="391.3" cy="169.2" r="0.95"/><circle cx="382.3" cy="160.8" r="0.95"/><circle cx="385.1" cy="162.6" r="0.95"/><circle cx="368.3" cy="136.1" r="0.95"/><circle cx="381.6" cy="140.8" r="0.95"/><circle cx="392.0" cy="168.4" r="0.95"/><circle cx="393.1" cy="171.8" r="0.95"/><circle cx="393.8" cy="175.0" r="0.95"/><circle cx="392.8" cy="174.6" r="0.95"/><circle cx="390.2" cy="172.3" r="0.95"/><circle cx="394.2" cy="177.5" r="0.95"/><circle cx="393.2" cy="172.6" r="0.95"/><circle cx="394.7" cy="177.8" r="0.95"/><circle cx="390.7" cy="172.0" r="0.95"/><circle cx="388.0" cy="164.1" r="0.95"/><circle cx="389.7" cy="168.9" r="0.95"/><circle cx="377.2" cy="152.7" r="0.95"/><circle cx="368.5" cy="132.0" r="0.95"/><circle cx="387.3" cy="166.2" r="0.95"/><circle cx="391.9" cy="169.8" r="0.95"/><circle cx="384.0" cy="157.8" r="0.95"/><circle cx="367.2" cy="134.6" r="0.95"/><circle cx="390.8" cy="173.3" r="0.95"/><circle cx="386.2" cy="154.2" r="0.95"/><circle cx="382.5" cy="162.0" r="0.95"/><circle cx="391.8" cy="167.8" r="0.95"/><circle cx="390.0" cy="164.9" r="0.95"/><circle cx="386.6" cy="163.3" r="0.95"/><circle cx="384.9" cy="153.0" r="0.95"/><circle cx="376.0" cy="148.1" r="0.95"/><circle cx="385.1" cy="165.2" r="0.95"/><circle cx="383.2" cy="157.6" r="0.95"/><circle cx="376.1" cy="146.0" r="0.95"/><circle cx="394.1" cy="176.6" r="0.95"/><circle cx="377.2" cy="155.6" r="0.95"/><circle cx="391.1" cy="173.0" r="0.95"/><circle cx="390.6" cy="162.9" r="0.95"/><circle cx="388.4" cy="156.6" r="0.95"/><circle cx="365.5" cy="137.8" r="0.95"/><circle cx="386.5" cy="165.2" r="0.95"/><circle cx="392.2" cy="173.2" r="0.95"/><circle cx="378.2" cy="143.1" r="0.95"/><circle cx="394.0" cy="177.4" r="0.95"/><circle cx="380.4" cy="139.4" r="0.95"/><circle cx="390.1" cy="167.2" r="0.95"/><circle cx="390.7" cy="170.7" r="0.95"/><circle cx="376.6" cy="136.7" r="0.95"/><circle cx="390.2" cy="168.4" r="0.95"/><circle cx="384.1" cy="164.6" r="0.95"/><circle cx="400.8" cy="165.5" r="0.95"/><circle cx="399.3" cy="170.9" r="0.95"/><circle cx="409.8" cy="145.6" r="0.95"/><circle cx="395.9" cy="176.4" r="0.95"/><circle cx="400.8" cy="162.2" r="0.95"/><circle cx="399.4" cy="165.8" r="0.95"/><circle cx="398.7" cy="167.8" r="0.95"/><circle cx="396.9" cy="175.4" r="0.95"/><circle cx="405.6" cy="155.0" r="0.95"/><circle cx="399.5" cy="166.0" r="0.95"/><circle cx="409.7" cy="134.9" r="0.95"/><circle cx="395.9" cy="177.5" r="0.95"/><circle cx="413.4" cy="130.3" r="0.95"/><circle cx="408.9" cy="135.8" r="0.95"/><circle cx="405.1" cy="163.3" r="0.95"/><circle cx="400.7" cy="164.0" r="0.95"/><circle cx="397.8" cy="173.1" r="0.95"/><circle cx="406.3" cy="145.7" r="0.95"/><circle cx="409.6" cy="151.4" r="0.95"/><circle cx="396.2" cy="176.4" r="0.95"/><circle cx="398.6" cy="170.6" r="0.95"/><circle cx="403.7" cy="165.9" r="0.95"/><circle cx="406.8" cy="147.0" r="0.95"/><circle cx="398.6" cy="168.9" r="0.95"/><circle cx="402.7" cy="159.5" r="0.95"/><circle cx="397.8" cy="170.5" r="0.95"/><circle cx="399.4" cy="168.1" r="0.95"/><circle cx="395.3" cy="178.2" r="0.95"/><circle cx="402.2" cy="169.9" r="0.95"/><circle cx="411.3" cy="148.7" r="0.95"/><circle cx="412.6" cy="149.7" r="0.95"/><circle cx="402.4" cy="167.2" r="0.95"/><circle cx="395.6" cy="177.7" r="0.95"/><circle cx="410.5" cy="154.0" r="0.95"/><circle cx="395.5" cy="177.9" r="0.95"/><circle cx="395.5" cy="177.4" r="0.95"/><circle cx="409.2" cy="145.7" r="0.95"/><circle cx="411.6" cy="143.6" r="0.95"/><circle cx="425.7" cy="141.4" r="0.95"/><circle cx="399.5" cy="165.3" r="0.95"/><circle cx="397.2" cy="173.0" r="0.95"/><circle cx="395.7" cy="177.1" r="0.95"/><circle cx="395.5" cy="177.4" r="0.95"/><circle cx="397.4" cy="173.4" r="0.95"/><circle cx="410.1" cy="147.7" r="0.95"/><circle cx="410.8" cy="138.2" r="0.95"/><circle cx="410.3" cy="145.4" r="0.95"/><circle cx="398.5" cy="168.8" r="0.95"/><circle cx="404.2" cy="157.9" r="0.95"/><circle cx="395.8" cy="176.5" r="0.95"/><circle cx="409.6" cy="137.7" r="0.95"/><circle cx="407.7" cy="157.5" r="0.95"/><circle cx="403.8" cy="152.5" r="0.95"/><circle cx="398.3" cy="171.3" r="0.95"/><circle cx="400.0" cy="165.2" r="0.95"/><circle cx="403.5" cy="165.7" r="0.95"/><circle cx="405.6" cy="157.2" r="0.95"/><circle cx="406.9" cy="148.6" r="0.95"/><circle cx="402.1" cy="161.4" r="0.95"/><circle cx="408.1" cy="151.6" r="0.95"/><circle cx="401.1" cy="162.1" r="0.95"/><circle cx="405.2" cy="147.6" r="0.95"/><circle cx="409.7" cy="152.2" r="0.95"/><circle cx="396.0" cy="175.9" r="0.95"/><circle cx="403.0" cy="164.3" r="0.95"/><circle cx="412.9" cy="131.1" r="0.95"/><circle cx="411.6" cy="130.3" r="0.95"/><circle cx="405.6" cy="148.5" r="0.95"/><circle cx="408.6" cy="140.3" r="0.95"/><circle cx="395.2" cy="178.3" r="0.95"/><circle cx="395.4" cy="177.9" r="0.95"/><circle cx="413.3" cy="134.0" r="0.95"/><circle cx="395.3" cy="178.4" r="0.95"/><circle cx="398.9" cy="168.1" r="0.95"/><circle cx="397.3" cy="173.5" r="0.95"/><circle cx="395.9" cy="177.0" r="0.95"/><circle cx="404.8" cy="163.5" r="0.95"/><circle cx="401.7" cy="159.4" r="0.95"/><circle cx="403.9" cy="155.6" r="0.95"/><circle cx="395.4" cy="177.7" r="0.95"/><circle cx="404.7" cy="152.1" r="0.95"/><circle cx="401.1" cy="160.9" r="0.95"/><circle cx="400.0" cy="166.2" r="0.95"/><circle cx="404.1" cy="151.7" r="0.95"/><circle cx="402.1" cy="165.7" r="0.95"/><circle cx="421.8" cy="141.9" r="0.95"/><circle cx="397.3" cy="173.4" r="0.95"/><circle cx="407.3" cy="155.1" r="0.95"/><circle cx="415.4" cy="136.0" r="0.95"/><circle cx="419.5" cy="131.3" r="0.95"/><circle cx="407.0" cy="156.2" r="0.95"/><circle cx="398.0" cy="171.5" r="0.95"/><circle cx="398.5" cy="168.7" r="0.95"/><circle cx="407.5" cy="153.9" r="0.95"/><circle cx="396.8" cy="176.4" r="0.95"/><circle cx="397.7" cy="171.9" r="0.95"/><circle cx="409.9" cy="139.6" r="0.95"/><circle cx="410.6" cy="137.3" r="0.95"/><circle cx="398.4" cy="168.8" r="0.95"/><circle cx="398.4" cy="170.5" r="0.95"/><circle cx="401.1" cy="160.2" r="0.95"/><circle cx="397.0" cy="173.5" r="0.95"/><circle cx="403.3" cy="154.2" r="0.95"/><circle cx="398.6" cy="171.3" r="0.95"/><circle cx="398.9" cy="168.4" r="0.95"/><circle cx="398.6" cy="168.1" r="0.95"/><circle cx="396.3" cy="175.3" r="0.95"/><circle cx="404.6" cy="150.1" r="0.95"/><circle cx="396.4" cy="175.7" r="0.95"/><circle cx="396.6" cy="174.9" r="0.95"/><circle cx="395.7" cy="177.1" r="0.95"/><circle cx="409.5" cy="138.2" r="0.95"/><circle cx="400.7" cy="169.5" r="0.95"/><circle cx="406.8" cy="148.2" r="0.95"/><circle cx="400.6" cy="162.7" r="0.95"/><circle cx="397.6" cy="173.6" r="0.95"/><circle cx="398.7" cy="169.5" r="0.95"/><circle cx="411.8" cy="158.5" r="0.95"/><circle cx="398.6" cy="170.7" r="0.95"/><circle cx="404.3" cy="152.9" r="0.95"/><circle cx="412.0" cy="137.9" r="0.95"/><circle cx="397.7" cy="173.2" r="0.95"/><circle cx="400.9" cy="164.4" r="0.95"/><circle cx="409.4" cy="140.6" r="0.95"/><circle cx="405.2" cy="149.1" r="0.95"/><circle cx="395.2" cy="178.1" r="0.95"/><circle cx="396.2" cy="175.6" r="0.95"/><circle cx="395.6" cy="177.6" r="0.95"/><circle cx="399.3" cy="171.8" r="0.95"/><circle cx="397.9" cy="172.6" r="0.95"/><circle cx="400.1" cy="166.7" r="0.95"/><circle cx="403.1" cy="161.8" r="0.95"/><circle cx="395.7" cy="176.9" r="0.95"/><circle cx="397.2" cy="175.4" r="0.95"/><circle cx="396.5" cy="174.9" r="0.95"/><circle cx="410.6" cy="149.0" r="0.95"/><circle cx="395.9" cy="176.4" r="0.95"/><circle cx="399.4" cy="173.5" r="0.95"/><circle cx="402.3" cy="165.2" r="0.95"/><circle cx="399.6" cy="170.2" r="0.95"/><circle cx="420.0" cy="132.1" r="0.95"/><circle cx="396.3" cy="175.0" r="0.95"/><circle cx="398.3" cy="169.6" r="0.95"/><circle cx="415.6" cy="148.9" r="0.95"/><circle cx="400.0" cy="170.9" r="0.95"/><circle cx="405.4" cy="160.2" r="0.95"/><circle cx="396.3" cy="176.4" r="0.95"/><circle cx="397.8" cy="171.5" r="0.95"/><circle cx="405.2" cy="160.3" r="0.95"/><circle cx="396.8" cy="173.7" r="0.95"/><circle cx="396.6" cy="174.1" r="0.95"/><circle cx="406.2" cy="159.0" r="0.95"/><circle cx="398.4" cy="172.1" r="0.95"/><circle cx="411.7" cy="136.2" r="0.95"/><circle cx="400.0" cy="166.1" r="0.95"/><circle cx="396.5" cy="174.4" r="0.95"/><circle cx="405.1" cy="152.7" r="0.95"/><circle cx="395.5" cy="177.6" r="0.95"/><circle cx="401.1" cy="164.1" r="0.95"/><circle cx="398.0" cy="170.4" r="0.95"/><circle cx="404.1" cy="161.0" r="0.95"/><circle cx="410.1" cy="158.2" r="0.95"/><circle cx="403.8" cy="161.9" r="0.95"/><circle cx="400.6" cy="164.1" r="0.95"/><circle cx="402.9" cy="159.7" r="0.95"/><circle cx="399.8" cy="165.3" r="0.95"/><circle cx="400.8" cy="164.6" r="0.95"/><circle cx="397.9" cy="170.2" r="0.95"/><circle cx="406.1" cy="151.3" r="0.95"/><circle cx="395.5" cy="177.6" r="0.95"/><circle cx="408.4" cy="140.4" r="0.95"/><circle cx="401.7" cy="167.1" r="0.95"/><circle cx="395.4" cy="177.8" r="0.95"/><circle cx="400.3" cy="166.8" r="0.95"/><circle cx="403.6" cy="161.5" r="0.95"/><circle cx="404.3" cy="152.5" r="0.95"/><circle cx="402.6" cy="165.5" r="0.95"/><circle cx="398.9" cy="168.0" r="0.95"/><circle cx="402.4" cy="161.6" r="0.95"/><circle cx="397.2" cy="173.6" r="0.95"/><circle cx="396.0" cy="176.3" r="0.95"/><circle cx="399.3" cy="170.2" r="0.95"/><circle cx="398.7" cy="170.7" r="0.95"/><circle cx="396.2" cy="175.9" r="0.95"/><circle cx="398.7" cy="169.9" r="0.95"/><circle cx="398.5" cy="169.3" r="0.95"/><circle cx="409.7" cy="153.2" r="0.95"/><circle cx="398.7" cy="169.2" r="0.95"/><circle cx="399.8" cy="169.4" r="0.95"/><circle cx="396.9" cy="175.7" r="0.95"/><circle cx="408.8" cy="142.0" r="0.95"/><circle cx="399.6" cy="167.9" r="0.95"/><circle cx="400.2" cy="168.2" r="0.95"/><circle cx="396.9" cy="174.4" r="0.95"/><circle cx="414.4" cy="137.3" r="0.95"/><circle cx="395.5" cy="177.5" r="0.95"/><circle cx="395.4" cy="177.8" r="0.95"/><circle cx="402.3" cy="157.8" r="0.95"/><circle cx="401.3" cy="161.6" r="0.95"/><circle cx="408.0" cy="139.7" r="0.95"/><circle cx="404.2" cy="155.8" r="0.95"/><circle cx="412.4" cy="132.9" r="0.95"/><circle cx="403.1" cy="158.8" r="0.95"/><circle cx="409.0" cy="146.4" r="0.95"/><circle cx="397.5" cy="172.0" r="0.95"/><circle cx="409.8" cy="140.8" r="0.95"/><circle cx="406.2" cy="148.6" r="0.95"/><circle cx="399.2" cy="168.0" r="0.95"/><circle cx="402.5" cy="165.6" r="0.95"/><circle cx="412.7" cy="140.4" r="0.95"/><circle cx="395.8" cy="177.2" r="0.95"/><circle cx="405.9" cy="159.1" r="0.95"/><circle cx="396.5" cy="175.1" r="0.95"/><circle cx="403.7" cy="164.6" r="0.95"/><circle cx="396.4" cy="176.0" r="0.95"/><circle cx="401.1" cy="164.0" r="0.95"/><circle cx="401.5" cy="165.9" r="0.95"/><circle cx="404.2" cy="153.1" r="0.95"/><circle cx="404.2" cy="160.8" r="0.95"/><circle cx="406.0" cy="152.0" r="0.95"/><circle cx="399.4" cy="168.8" r="0.95"/><circle cx="402.3" cy="158.8" r="0.95"/><circle cx="414.3" cy="139.8" r="0.95"/><circle cx="402.4" cy="157.4" r="0.95"/><circle cx="401.3" cy="166.7" r="0.95"/><circle cx="396.2" cy="176.2" r="0.95"/><circle cx="415.6" cy="148.6" r="0.95"/><circle cx="403.2" cy="156.1" r="0.95"/><circle cx="399.6" cy="169.3" r="0.95"/><circle cx="414.0" cy="135.7" r="0.95"/><circle cx="400.0" cy="165.9" r="0.95"/><circle cx="396.2" cy="176.4" r="0.95"/><circle cx="396.2" cy="175.8" r="0.95"/><circle cx="406.0" cy="154.4" r="0.95"/><circle cx="401.1" cy="164.8" r="0.95"/><circle cx="396.3" cy="176.3" r="0.95"/><circle cx="396.3" cy="175.9" r="0.95"/><circle cx="395.7" cy="177.1" r="0.95"/><circle cx="401.6" cy="162.3" r="0.95"/><circle cx="408.7" cy="136.8" r="0.95"/><circle cx="409.9" cy="138.6" r="0.95"/><circle cx="401.2" cy="165.9" r="0.95"/><circle cx="395.8" cy="176.6" r="0.95"/><circle cx="398.7" cy="170.5" r="0.95"/><circle cx="401.1" cy="164.3" r="0.95"/><circle cx="396.7" cy="174.8" r="0.95"/><circle cx="396.9" cy="175.5" r="0.95"/><circle cx="409.3" cy="160.1" r="0.95"/><circle cx="401.0" cy="165.2" r="0.95"/><circle cx="398.5" cy="169.6" r="0.95"/><circle cx="398.7" cy="171.5" r="0.95"/><circle cx="397.5" cy="172.4" r="0.95"/><circle cx="415.4" cy="139.9" r="0.95"/><circle cx="408.8" cy="148.5" r="0.95"/><circle cx="402.8" cy="165.2" r="0.95"/><circle cx="410.6" cy="130.7" r="0.95"/><circle cx="396.1" cy="175.8" r="0.95"/><circle cx="408.5" cy="152.2" r="0.95"/><circle cx="413.6" cy="140.6" r="0.95"/><circle cx="402.9" cy="158.5" r="0.95"/><circle cx="399.9" cy="169.3" r="0.95"/><circle cx="396.6" cy="174.4" r="0.95"/><circle cx="405.7" cy="161.7" r="0.95"/><circle cx="402.6" cy="168.1" r="0.95"/><circle cx="398.9" cy="170.4" r="0.95"/><circle cx="400.6" cy="162.9" r="0.95"/><circle cx="400.4" cy="167.8" r="0.95"/><circle cx="400.9" cy="165.9" r="0.95"/><circle cx="397.1" cy="173.2" r="0.95"/><circle cx="409.8" cy="133.0" r="0.95"/><circle cx="401.7" cy="158.7" r="0.95"/><circle cx="410.2" cy="138.6" r="0.95"/><circle cx="398.5" cy="168.0" r="0.95"/><circle cx="402.0" cy="170.2" r="0.95"/><circle cx="397.5" cy="172.8" r="0.95"/><circle cx="401.7" cy="160.2" r="0.95"/><circle cx="396.3" cy="176.3" r="0.95"/><circle cx="404.9" cy="157.2" r="0.95"/><circle cx="395.3" cy="178.4" r="0.95"/><circle cx="398.7" cy="171.1" r="0.95"/><circle cx="398.5" cy="170.0" r="0.95"/><circle cx="399.1" cy="170.7" r="0.95"/><circle cx="413.8" cy="141.1" r="0.95"/><circle cx="400.4" cy="162.4" r="0.95"/><circle cx="405.3" cy="157.2" r="0.95"/><circle cx="404.9" cy="153.7" r="0.95"/><circle cx="395.3" cy="178.3" r="0.95"/><circle cx="395.9" cy="176.5" r="0.95"/><circle cx="413.5" cy="131.2" r="0.95"/><circle cx="398.4" cy="168.5" r="0.95"/><circle cx="400.5" cy="166.0" r="0.95"/><circle cx="402.7" cy="157.7" r="0.95"/><circle cx="414.0" cy="146.1" r="0.95"/><circle cx="408.6" cy="156.1" r="0.95"/><circle cx="395.6" cy="177.4" r="0.95"/><circle cx="395.8" cy="177.1" r="0.95"/><circle cx="411.6" cy="132.8" r="0.95"/><circle cx="407.8" cy="146.3" r="0.95"/><circle cx="408.1" cy="153.3" r="0.95"/><circle cx="395.7" cy="177.0" r="0.95"/><circle cx="406.5" cy="155.6" r="0.95"/><circle cx="399.9" cy="165.4" r="0.95"/><circle cx="403.0" cy="162.5" r="0.95"/><circle cx="395.3" cy="178.2" r="0.95"/><circle cx="397.5" cy="172.8" r="0.95"/><circle cx="406.2" cy="156.2" r="0.95"/><circle cx="400.5" cy="165.5" r="0.95"/><circle cx="401.4" cy="161.6" r="0.95"/><circle cx="402.0" cy="166.3" r="0.95"/><circle cx="408.5" cy="146.3" r="0.95"/><circle cx="426.8" cy="140.6" r="0.95"/><circle cx="399.5" cy="166.7" r="0.95"/><circle cx="410.6" cy="137.8" r="0.95"/><circle cx="425.3" cy="136.0" r="0.95"/><circle cx="405.9" cy="150.1" r="0.95"/><circle cx="416.9" cy="146.0" r="0.95"/><circle cx="395.6" cy="177.5" r="0.95"/><circle cx="397.8" cy="170.6" r="0.95"/><circle cx="396.7" cy="174.1" r="0.95"/><circle cx="410.6" cy="133.8" r="0.95"/><circle cx="408.9" cy="150.0" r="0.95"/><circle cx="399.7" cy="164.2" r="0.95"/><circle cx="408.5" cy="141.8" r="0.95"/><circle cx="396.6" cy="174.9" r="0.95"/><circle cx="405.7" cy="146.2" r="0.95"/><circle cx="395.8" cy="176.8" r="0.95"/><circle cx="401.7" cy="164.1" r="0.95"/><circle cx="397.1" cy="175.9" r="0.95"/><circle cx="398.0" cy="170.3" r="0.95"/><circle cx="355.4" cy="131.3" r="0.95"/><circle cx="351.9" cy="134.5" r="0.95"/><circle cx="355.9" cy="135.1" r="0.95"/><circle cx="370.8" cy="130.2" r="0.95"/><circle cx="340.0" cy="139.3" r="0.95"/><circle cx="370.6" cy="130.8" r="0.95"/><circle cx="380.9" cy="130.8" r="0.95"/><circle cx="340.1" cy="139.5" r="0.95"/><circle cx="352.0" cy="134.5" r="0.95"/><circle cx="355.6" cy="134.9" r="0.95"/><circle cx="355.3" cy="131.1" r="0.95"/><circle cx="354.6" cy="146.1" r="0.95"/><circle cx="361.5" cy="147.1" r="0.95"/><circle cx="360.7" cy="151.5" r="0.95"/><circle cx="364.4" cy="160.2" r="0.95"/><circle cx="368.3" cy="158.7" r="0.95"/><circle cx="370.2" cy="162.1" r="0.95"/><circle cx="372.1" cy="159.9" r="0.95"/><circle cx="373.5" cy="167.2" r="0.95"/><circle cx="383.3" cy="175.9" r="0.95"/><circle cx="428.0" cy="134.2" r="0.95"/><circle cx="424.0" cy="136.2" r="0.95"/><circle cx="425.3" cy="136.2" r="0.95"/><circle cx="420.6" cy="139.3" r="0.95"/><circle cx="417.3" cy="143.6" r="0.95"/><circle cx="416.0" cy="135.6" r="0.95"/></g>
<g fill="#F00"><circle cx="324.3" cy="57.5" r="1.05"/><circle cx="337.9" cy="65.2" r="1.05"/><circle cx="347.4" cy="64.9" r="1.05"/><circle cx="334.6" cy="74.0" r="1.05"/><circle cx="338.6" cy="74.0" r="1.05"/><circle cx="342.5" cy="75.2" r="1.05"/><circle cx="347.6" cy="75.2" r="1.05"/><circle cx="357.1" cy="74.3" r="1.05"/><circle cx="358.2" cy="74.3" r="1.05"/><circle cx="357.6" cy="75.2" r="1.05"/><circle cx="329.4" cy="79.0" r="1.05"/><circle cx="361.3" cy="81.2" r="1.05"/><circle cx="344.8" cy="84.1" r="1.05"/><circle cx="363.3" cy="86.3" r="1.05"/><circle cx="338.8" cy="93.9" r="1.05"/><circle cx="357.9" cy="93.9" r="1.05"/><circle cx="354.2" cy="96.9" r="1.05"/><circle cx="356.7" cy="98.3" r="1.05"/><circle cx="367.0" cy="98.8" r="1.05"/><circle cx="369.3" cy="96.9" r="1.05"/><circle cx="371.3" cy="98.8" r="1.05"/><circle cx="368.4" cy="103.8" r="1.05"/><circle cx="369.9" cy="104.4" r="1.05"/><circle cx="371.3" cy="103.8" r="1.05"/><circle cx="361.9" cy="107.0" r="1.05"/><circle cx="369.3" cy="107.0" r="1.05"/><circle cx="375.1" cy="108.0" r="1.05"/><circle cx="373.3" cy="110.6" r="1.05"/><circle cx="374.4" cy="111.8" r="1.05"/><circle cx="375.6" cy="112.2" r="1.05"/><circle cx="360.8" cy="113.1" r="1.05"/><circle cx="370.6" cy="113.1" r="1.05"/><circle cx="372.9" cy="113.5" r="1.05"/><circle cx="374.1" cy="114.8" r="1.05"/><circle cx="376.0" cy="114.4" r="1.05"/><circle cx="366.1" cy="115.1" r="1.05"/><circle cx="369.9" cy="115.2" r="1.05"/><circle cx="374.1" cy="116.9" r="1.05"/><circle cx="371.0" cy="121.3" r="1.05"/><circle cx="372.5" cy="120.9" r="1.05"/><circle cx="374.1" cy="120.5" r="1.05"/><circle cx="368.0" cy="123.7" r="1.05"/><circle cx="370.5" cy="125.1" r="1.05"/><circle cx="363.7" cy="126.8" r="1.05"/><circle cx="370.6" cy="128.0" r="1.05"/><circle cx="373.7" cy="126.6" r="1.05"/><circle cx="374.8" cy="127.8" r="1.05"/><circle cx="375.6" cy="128.5" r="1.05"/><circle cx="374.4" cy="129.3" r="1.05"/><circle cx="376.0" cy="129.7" r="1.05"/><circle cx="347.9" cy="114.8" r="1.05"/><circle cx="349.1" cy="127.3" r="1.05"/><circle cx="360.8" cy="113.1" r="1.05"/><circle cx="366.2" cy="115.1" r="1.05"/><circle cx="463.5" cy="42.0" r="1.05"/><circle cx="454.6" cy="65.3" r="1.05"/><circle cx="458.2" cy="74.0" r="1.05"/><circle cx="431.3" cy="75.3" r="1.05"/><circle cx="433.0" cy="74.0" r="1.05"/><circle cx="435.3" cy="85.8" r="1.05"/><circle cx="428.3" cy="90.6" r="1.05"/><circle cx="429.9" cy="92.9" r="1.05"/><circle cx="434.3" cy="92.6" r="1.05"/><circle cx="423.3" cy="93.9" r="1.05"/><circle cx="450.3" cy="92.2" r="1.05"/><circle cx="424.6" cy="98.6" r="1.05"/><circle cx="431.9" cy="98.8" r="1.05"/><circle cx="436.2" cy="109.2" r="1.05"/><circle cx="450.6" cy="111.4" r="1.05"/><circle cx="417.3" cy="113.3" r="1.05"/><circle cx="424.0" cy="115.6" r="1.05"/><circle cx="425.3" cy="114.9" r="1.05"/><circle cx="426.4" cy="116.0" r="1.05"/><circle cx="415.3" cy="122.3" r="1.05"/><circle cx="414.6" cy="128.7" r="1.05"/><circle cx="420.6" cy="127.9" r="1.05"/><circle cx="424.4" cy="127.6" r="1.05"/><circle cx="420.0" cy="129.9" r="1.05"/><circle cx="432.6" cy="128.5" r="1.05"/><circle cx="434.3" cy="128.5" r="1.05"/><circle cx="439.7" cy="127.3" r="1.05"/></g>
<g fill="#1F2FFF"><circle cx="379.0" cy="121.7" r="1.05"/><circle cx="377.5" cy="124.0" r="1.05"/><circle cx="379.8" cy="125.9" r="1.05"/><circle cx="378.6" cy="128.0" r="1.05"/><circle cx="378.1" cy="127.2" r="1.05"/><circle cx="377.0" cy="128.6" r="1.05"/><circle cx="412.9" cy="121.2" r="1.05"/><circle cx="411.3" cy="127.3" r="1.05"/><circle cx="412.2" cy="128.3" r="1.05"/><circle cx="413.3" cy="128.9" r="1.05"/><circle cx="411.8" cy="126.5" r="1.05"/></g>
</svg></body></html>
